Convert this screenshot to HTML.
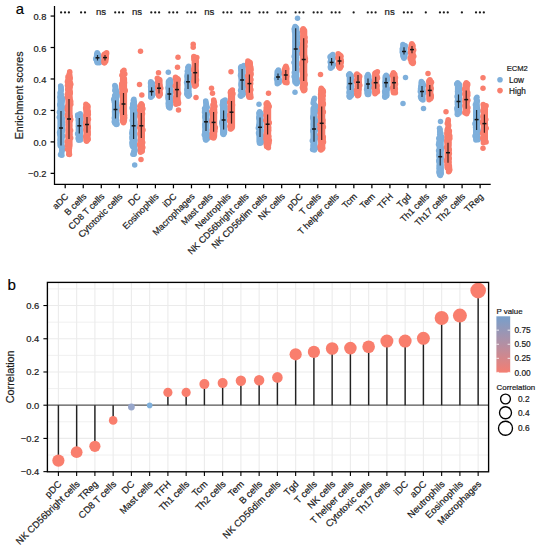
<!DOCTYPE html>
<html><head><meta charset="utf-8"><style>
html,body{margin:0;padding:0;background:#fff;width:540px;height:550px;overflow:hidden}
svg{display:block;font-family:"Liberation Sans", sans-serif}
text{stroke:#1a1a1a;stroke-width:0.2px}
</style></head><body>
<svg width="540" height="550" viewBox="0 0 540 550">
<text x="15.8" y="13.6" font-size="14.8" fill="#000" style="stroke:#000;stroke-width:0.15px">a</text>
<path d="M54.5,5.9 V184.4 H490.7" fill="none" stroke="#000" stroke-width="1.25"/>
<line x1="50.6" x2="54.5" y1="16.06" y2="16.06" stroke="#000" stroke-width="1.25"/>
<text x="46.4" y="20.16" font-size="9.3" text-anchor="end" fill="#1A1A1A">0.8</text>
<line x1="50.6" x2="54.5" y1="47.52" y2="47.52" stroke="#000" stroke-width="1.25"/>
<text x="46.4" y="51.62" font-size="9.3" text-anchor="end" fill="#1A1A1A">0.6</text>
<line x1="50.6" x2="54.5" y1="78.98" y2="78.98" stroke="#000" stroke-width="1.25"/>
<text x="46.4" y="83.08" font-size="9.3" text-anchor="end" fill="#1A1A1A">0.4</text>
<line x1="50.6" x2="54.5" y1="110.44" y2="110.44" stroke="#000" stroke-width="1.25"/>
<text x="46.4" y="114.54" font-size="9.3" text-anchor="end" fill="#1A1A1A">0.2</text>
<line x1="50.6" x2="54.5" y1="141.90" y2="141.90" stroke="#000" stroke-width="1.25"/>
<text x="46.4" y="146.00" font-size="9.3" text-anchor="end" fill="#1A1A1A">0.0</text>
<line x1="50.6" x2="54.5" y1="173.36" y2="173.36" stroke="#000" stroke-width="1.25"/>
<text x="46.4" y="177.46" font-size="9.3" text-anchor="end" fill="#1A1A1A">−0.2</text>
<text transform="translate(22.6,95.4) rotate(-90)" font-size="10.6" text-anchor="middle" fill="#1A1A1A">Enrichment scores</text>
<g fill="#7EAFDB">
<rect x="57.40" y="96.20" width="7.2" height="52.60" rx="3.6"/>
<circle cx="60.6" cy="86.0" r="2.75"/>
<circle cx="61.1" cy="87.3" r="2.75"/>
<circle cx="60.8" cy="88.5" r="2.75"/>
<circle cx="61.2" cy="89.8" r="2.75"/>
<circle cx="61.2" cy="91.0" r="2.75"/>
<circle cx="60.3" cy="92.3" r="2.75"/>
<circle cx="60.2" cy="93.5" r="2.75"/>
<circle cx="61.5" cy="94.8" r="2.75"/>
<circle cx="60.1" cy="96.0" r="2.75"/>
<circle cx="60.0" cy="97.3" r="2.75"/>
<circle cx="62.8" cy="98.5" r="2.75"/>
<circle cx="60.9" cy="99.8" r="2.75"/>
<circle cx="62.2" cy="101.0" r="2.75"/>
<circle cx="60.9" cy="102.3" r="2.75"/>
<circle cx="61.5" cy="103.5" r="2.75"/>
<circle cx="59.7" cy="104.8" r="2.75"/>
<circle cx="61.5" cy="106.0" r="2.75"/>
<circle cx="62.3" cy="107.3" r="2.75"/>
<circle cx="61.1" cy="108.5" r="2.75"/>
<circle cx="61.9" cy="109.8" r="2.75"/>
<circle cx="61.6" cy="111.0" r="2.75"/>
<circle cx="59.4" cy="112.3" r="2.75"/>
<circle cx="61.9" cy="113.5" r="2.75"/>
<circle cx="61.3" cy="114.8" r="2.75"/>
<circle cx="60.3" cy="116.0" r="2.75"/>
<circle cx="59.3" cy="117.3" r="2.75"/>
<circle cx="62.3" cy="118.5" r="2.75"/>
<circle cx="60.9" cy="119.8" r="2.75"/>
<circle cx="61.8" cy="121.0" r="2.75"/>
<circle cx="62.4" cy="122.3" r="2.75"/>
<circle cx="61.8" cy="123.5" r="2.75"/>
<circle cx="62.5" cy="124.8" r="2.75"/>
<circle cx="60.6" cy="126.0" r="2.75"/>
<circle cx="62.1" cy="127.3" r="2.75"/>
<circle cx="60.8" cy="128.6" r="2.75"/>
<circle cx="62.6" cy="129.8" r="2.75"/>
<circle cx="62.4" cy="131.1" r="2.75"/>
<circle cx="59.6" cy="132.3" r="2.75"/>
<circle cx="59.7" cy="133.6" r="2.75"/>
<circle cx="60.0" cy="134.8" r="2.75"/>
<circle cx="62.7" cy="136.1" r="2.75"/>
<circle cx="60.8" cy="137.3" r="2.75"/>
<circle cx="61.5" cy="138.6" r="2.75"/>
<circle cx="60.3" cy="139.8" r="2.75"/>
<circle cx="61.0" cy="141.1" r="2.75"/>
<circle cx="60.6" cy="142.3" r="2.75"/>
<circle cx="60.5" cy="143.6" r="2.75"/>
<circle cx="61.3" cy="144.8" r="2.75"/>
<circle cx="61.3" cy="146.1" r="2.75"/>
<circle cx="62.5" cy="147.3" r="2.75"/>
<circle cx="61.7" cy="148.6" r="2.75"/>
<circle cx="62.5" cy="149.8" r="2.75"/>
<circle cx="61.6" cy="151.1" r="2.75"/>
<circle cx="61.8" cy="152.3" r="2.75"/>
<circle cx="61.3" cy="153.6" r="2.75"/>
<circle cx="60.5" cy="154.8" r="2.75"/>
<circle cx="61.9" cy="155.2" r="2.75"/>
</g>
<g fill="#F97E6D">
<rect x="65.40" y="75.20" width="7.2" height="73.60" rx="3.6"/>
<circle cx="69.7" cy="71.8" r="2.75"/>
<circle cx="69.6" cy="73.0" r="2.75"/>
<circle cx="69.2" cy="74.2" r="2.75"/>
<circle cx="69.8" cy="75.5" r="2.75"/>
<circle cx="68.0" cy="76.8" r="2.75"/>
<circle cx="70.2" cy="78.0" r="2.75"/>
<circle cx="69.3" cy="79.2" r="2.75"/>
<circle cx="68.2" cy="80.5" r="2.75"/>
<circle cx="67.4" cy="81.8" r="2.75"/>
<circle cx="70.3" cy="83.0" r="2.75"/>
<circle cx="70.8" cy="84.2" r="2.75"/>
<circle cx="67.5" cy="85.5" r="2.75"/>
<circle cx="70.1" cy="86.8" r="2.75"/>
<circle cx="68.7" cy="88.0" r="2.75"/>
<circle cx="67.7" cy="89.2" r="2.75"/>
<circle cx="68.3" cy="90.5" r="2.75"/>
<circle cx="70.0" cy="91.8" r="2.75"/>
<circle cx="70.3" cy="93.0" r="2.75"/>
<circle cx="67.4" cy="94.2" r="2.75"/>
<circle cx="69.4" cy="95.5" r="2.75"/>
<circle cx="67.4" cy="96.8" r="2.75"/>
<circle cx="69.8" cy="98.0" r="2.75"/>
<circle cx="68.4" cy="99.2" r="2.75"/>
<circle cx="70.4" cy="100.5" r="2.75"/>
<circle cx="70.7" cy="101.8" r="2.75"/>
<circle cx="69.0" cy="103.0" r="2.75"/>
<circle cx="70.8" cy="104.2" r="2.75"/>
<circle cx="68.3" cy="105.5" r="2.75"/>
<circle cx="67.5" cy="106.8" r="2.75"/>
<circle cx="69.4" cy="108.0" r="2.75"/>
<circle cx="67.3" cy="109.2" r="2.75"/>
<circle cx="67.9" cy="110.5" r="2.75"/>
<circle cx="68.7" cy="111.8" r="2.75"/>
<circle cx="69.4" cy="113.0" r="2.75"/>
<circle cx="67.8" cy="114.2" r="2.75"/>
<circle cx="67.4" cy="115.5" r="2.75"/>
<circle cx="70.3" cy="116.8" r="2.75"/>
<circle cx="68.3" cy="118.0" r="2.75"/>
<circle cx="70.7" cy="119.2" r="2.75"/>
<circle cx="70.4" cy="120.5" r="2.75"/>
<circle cx="68.6" cy="121.8" r="2.75"/>
<circle cx="68.9" cy="123.0" r="2.75"/>
<circle cx="69.1" cy="124.2" r="2.75"/>
<circle cx="69.5" cy="125.5" r="2.75"/>
<circle cx="69.3" cy="126.8" r="2.75"/>
<circle cx="69.2" cy="128.0" r="2.75"/>
<circle cx="69.4" cy="129.2" r="2.75"/>
<circle cx="70.6" cy="130.5" r="2.75"/>
<circle cx="69.0" cy="131.8" r="2.75"/>
<circle cx="68.8" cy="133.0" r="2.75"/>
<circle cx="69.8" cy="134.2" r="2.75"/>
<circle cx="68.1" cy="135.5" r="2.75"/>
<circle cx="68.3" cy="136.8" r="2.75"/>
<circle cx="70.7" cy="138.0" r="2.75"/>
<circle cx="69.1" cy="139.2" r="2.75"/>
<circle cx="69.2" cy="140.5" r="2.75"/>
<circle cx="67.2" cy="141.8" r="2.75"/>
<circle cx="68.7" cy="143.0" r="2.75"/>
<circle cx="69.3" cy="144.2" r="2.75"/>
<circle cx="67.3" cy="145.5" r="2.75"/>
<circle cx="69.4" cy="146.8" r="2.75"/>
<circle cx="69.5" cy="148.0" r="2.75"/>
<circle cx="67.4" cy="149.2" r="2.75"/>
<circle cx="69.2" cy="150.5" r="2.75"/>
<circle cx="68.9" cy="151.8" r="2.75"/>
<circle cx="69.3" cy="153.0" r="2.75"/>
<circle cx="68.8" cy="154.2" r="2.75"/>
<circle cx="69.5" cy="154.4" r="2.75"/>
</g>
<g fill="#7EAFDB">
<rect x="75.70" y="112.20" width="7.2" height="29.60" rx="3.6"/>
<circle cx="80.2" cy="113.8" r="2.75"/>
<circle cx="77.6" cy="115.0" r="2.75"/>
<circle cx="77.7" cy="116.2" r="2.75"/>
<circle cx="79.9" cy="117.5" r="2.75"/>
<circle cx="81.0" cy="118.8" r="2.75"/>
<circle cx="78.4" cy="120.0" r="2.75"/>
<circle cx="79.1" cy="121.2" r="2.75"/>
<circle cx="79.6" cy="122.5" r="2.75"/>
<circle cx="78.7" cy="123.8" r="2.75"/>
<circle cx="78.8" cy="125.0" r="2.75"/>
<circle cx="78.6" cy="126.2" r="2.75"/>
<circle cx="78.8" cy="127.5" r="2.75"/>
<circle cx="79.6" cy="128.8" r="2.75"/>
<circle cx="78.6" cy="130.0" r="2.75"/>
<circle cx="78.9" cy="131.2" r="2.75"/>
<circle cx="80.3" cy="132.5" r="2.75"/>
<circle cx="77.6" cy="133.8" r="2.75"/>
<circle cx="79.5" cy="135.0" r="2.75"/>
<circle cx="80.1" cy="136.2" r="2.75"/>
<circle cx="78.6" cy="137.5" r="2.75"/>
<circle cx="78.3" cy="138.8" r="2.75"/>
<circle cx="80.4" cy="140.0" r="2.75"/>
<circle cx="78.7" cy="140.2" r="2.75"/>
</g>
<g fill="#F97E6D">
<rect x="83.40" y="102.70" width="7.2" height="40.10" rx="3.6"/>
<circle cx="85.9" cy="104.2" r="2.75"/>
<circle cx="86.8" cy="105.5" r="2.75"/>
<circle cx="87.7" cy="106.8" r="2.75"/>
<circle cx="85.6" cy="108.0" r="2.75"/>
<circle cx="86.4" cy="109.2" r="2.75"/>
<circle cx="86.4" cy="110.5" r="2.75"/>
<circle cx="88.2" cy="111.8" r="2.75"/>
<circle cx="86.8" cy="113.0" r="2.75"/>
<circle cx="88.3" cy="114.2" r="2.75"/>
<circle cx="85.8" cy="115.5" r="2.75"/>
<circle cx="86.4" cy="116.8" r="2.75"/>
<circle cx="87.5" cy="118.0" r="2.75"/>
<circle cx="88.4" cy="119.2" r="2.75"/>
<circle cx="86.8" cy="120.5" r="2.75"/>
<circle cx="86.0" cy="121.8" r="2.75"/>
<circle cx="85.6" cy="123.0" r="2.75"/>
<circle cx="87.1" cy="124.2" r="2.75"/>
<circle cx="85.9" cy="125.5" r="2.75"/>
<circle cx="88.1" cy="126.8" r="2.75"/>
<circle cx="88.2" cy="128.0" r="2.75"/>
<circle cx="85.9" cy="129.2" r="2.75"/>
<circle cx="86.2" cy="130.5" r="2.75"/>
<circle cx="88.1" cy="131.8" r="2.75"/>
<circle cx="87.5" cy="133.0" r="2.75"/>
<circle cx="88.1" cy="134.2" r="2.75"/>
<circle cx="86.4" cy="135.5" r="2.75"/>
<circle cx="85.7" cy="136.8" r="2.75"/>
<circle cx="86.3" cy="138.0" r="2.75"/>
<circle cx="88.1" cy="139.2" r="2.75"/>
<circle cx="86.2" cy="140.5" r="2.75"/>
<circle cx="86.6" cy="141.2" r="2.75"/>
</g>
<g fill="#7EAFDB">
<rect x="93.90" y="51.20" width="7.2" height="13.10" rx="3.6"/>
<circle cx="97.2" cy="52.8" r="2.75"/>
<circle cx="97.2" cy="54.0" r="2.75"/>
<circle cx="97.2" cy="55.2" r="2.75"/>
<circle cx="99.0" cy="56.5" r="2.75"/>
<circle cx="96.3" cy="57.8" r="2.75"/>
<circle cx="95.7" cy="59.0" r="2.75"/>
<circle cx="99.1" cy="60.2" r="2.75"/>
<circle cx="98.9" cy="61.5" r="2.75"/>
<circle cx="99.3" cy="62.8" r="2.75"/>
<circle cx="97.3" cy="62.8" r="2.75"/>
</g>
<g fill="#F97E6D">
<rect x="101.40" y="51.20" width="7.2" height="13.10" rx="3.6"/>
<circle cx="106.6" cy="52.8" r="2.75"/>
<circle cx="106.5" cy="54.0" r="2.75"/>
<circle cx="104.0" cy="55.2" r="2.75"/>
<circle cx="105.9" cy="56.5" r="2.75"/>
<circle cx="106.2" cy="57.8" r="2.75"/>
<circle cx="105.6" cy="59.0" r="2.75"/>
<circle cx="105.1" cy="60.2" r="2.75"/>
<circle cx="104.2" cy="61.5" r="2.75"/>
<circle cx="104.4" cy="62.8" r="2.75"/>
<circle cx="104.3" cy="62.8" r="2.75"/>
</g>
<g fill="#7EAFDB">
<rect x="111.90" y="92.20" width="7.2" height="33.90" rx="3.6"/>
<circle cx="114.8" cy="85.5" r="2.75"/>
<circle cx="115.6" cy="86.7" r="2.75"/>
<circle cx="115.2" cy="88.0" r="2.75"/>
<circle cx="116.0" cy="89.2" r="2.75"/>
<circle cx="114.8" cy="90.5" r="2.75"/>
<circle cx="117.0" cy="91.7" r="2.75"/>
<circle cx="116.2" cy="93.0" r="2.75"/>
<circle cx="117.0" cy="94.2" r="2.75"/>
<circle cx="116.9" cy="95.5" r="2.75"/>
<circle cx="116.9" cy="96.7" r="2.75"/>
<circle cx="115.8" cy="98.0" r="2.75"/>
<circle cx="113.7" cy="99.2" r="2.75"/>
<circle cx="116.4" cy="100.5" r="2.75"/>
<circle cx="114.3" cy="101.7" r="2.75"/>
<circle cx="114.8" cy="103.0" r="2.75"/>
<circle cx="116.1" cy="104.2" r="2.75"/>
<circle cx="115.6" cy="105.5" r="2.75"/>
<circle cx="115.2" cy="106.7" r="2.75"/>
<circle cx="117.1" cy="108.0" r="2.75"/>
<circle cx="115.9" cy="109.2" r="2.75"/>
<circle cx="114.9" cy="110.5" r="2.75"/>
<circle cx="114.6" cy="111.7" r="2.75"/>
<circle cx="116.8" cy="113.0" r="2.75"/>
<circle cx="115.4" cy="114.2" r="2.75"/>
<circle cx="116.5" cy="115.5" r="2.75"/>
<circle cx="115.0" cy="116.7" r="2.75"/>
<circle cx="114.4" cy="118.0" r="2.75"/>
<circle cx="115.6" cy="119.2" r="2.75"/>
<circle cx="116.6" cy="120.5" r="2.75"/>
<circle cx="114.3" cy="121.7" r="2.75"/>
<circle cx="116.6" cy="123.0" r="2.75"/>
<circle cx="117.0" cy="124.2" r="2.75"/>
<circle cx="116.2" cy="124.5" r="2.75"/>
</g>
<g fill="#F97E6D">
<rect x="119.90" y="75.20" width="7.2" height="49.10" rx="3.6"/>
<circle cx="124.0" cy="70.3" r="2.75"/>
<circle cx="122.7" cy="71.6" r="2.75"/>
<circle cx="123.7" cy="72.8" r="2.75"/>
<circle cx="124.8" cy="74.1" r="2.75"/>
<circle cx="121.9" cy="75.3" r="2.75"/>
<circle cx="122.7" cy="76.6" r="2.75"/>
<circle cx="122.7" cy="77.8" r="2.75"/>
<circle cx="123.6" cy="79.1" r="2.75"/>
<circle cx="123.2" cy="80.3" r="2.75"/>
<circle cx="123.4" cy="81.6" r="2.75"/>
<circle cx="124.5" cy="82.8" r="2.75"/>
<circle cx="121.7" cy="84.1" r="2.75"/>
<circle cx="121.9" cy="85.3" r="2.75"/>
<circle cx="122.2" cy="86.6" r="2.75"/>
<circle cx="122.1" cy="87.8" r="2.75"/>
<circle cx="121.9" cy="89.1" r="2.75"/>
<circle cx="125.2" cy="90.3" r="2.75"/>
<circle cx="124.8" cy="91.6" r="2.75"/>
<circle cx="122.0" cy="92.8" r="2.75"/>
<circle cx="123.5" cy="94.1" r="2.75"/>
<circle cx="122.8" cy="95.3" r="2.75"/>
<circle cx="122.8" cy="96.6" r="2.75"/>
<circle cx="123.0" cy="97.8" r="2.75"/>
<circle cx="124.0" cy="99.1" r="2.75"/>
<circle cx="123.8" cy="100.3" r="2.75"/>
<circle cx="123.0" cy="101.6" r="2.75"/>
<circle cx="122.4" cy="102.8" r="2.75"/>
<circle cx="122.9" cy="104.1" r="2.75"/>
<circle cx="122.1" cy="105.3" r="2.75"/>
<circle cx="123.7" cy="106.6" r="2.75"/>
<circle cx="124.3" cy="107.8" r="2.75"/>
<circle cx="123.1" cy="109.1" r="2.75"/>
<circle cx="122.0" cy="110.3" r="2.75"/>
<circle cx="122.3" cy="111.6" r="2.75"/>
<circle cx="123.0" cy="112.8" r="2.75"/>
<circle cx="123.9" cy="114.1" r="2.75"/>
<circle cx="124.5" cy="115.3" r="2.75"/>
<circle cx="123.1" cy="116.6" r="2.75"/>
<circle cx="124.6" cy="117.8" r="2.75"/>
<circle cx="123.9" cy="119.1" r="2.75"/>
<circle cx="123.3" cy="120.3" r="2.75"/>
<circle cx="123.0" cy="121.6" r="2.75"/>
<circle cx="123.5" cy="122.8" r="2.75"/>
</g>
<g fill="#7EAFDB">
<rect x="130.00" y="101.20" width="7.2" height="48.60" rx="3.6"/>
<circle cx="133.9" cy="99.2" r="2.75"/>
<circle cx="133.3" cy="100.4" r="2.75"/>
<circle cx="134.3" cy="101.7" r="2.75"/>
<circle cx="133.5" cy="102.9" r="2.75"/>
<circle cx="132.7" cy="104.2" r="2.75"/>
<circle cx="133.7" cy="105.4" r="2.75"/>
<circle cx="134.3" cy="106.7" r="2.75"/>
<circle cx="132.1" cy="107.9" r="2.75"/>
<circle cx="133.3" cy="109.2" r="2.75"/>
<circle cx="133.3" cy="110.4" r="2.75"/>
<circle cx="135.0" cy="111.7" r="2.75"/>
<circle cx="135.2" cy="112.9" r="2.75"/>
<circle cx="133.1" cy="114.2" r="2.75"/>
<circle cx="135.0" cy="115.4" r="2.75"/>
<circle cx="134.6" cy="116.7" r="2.75"/>
<circle cx="132.7" cy="117.9" r="2.75"/>
<circle cx="133.5" cy="119.2" r="2.75"/>
<circle cx="132.2" cy="120.4" r="2.75"/>
<circle cx="134.7" cy="121.7" r="2.75"/>
<circle cx="134.2" cy="122.9" r="2.75"/>
<circle cx="135.0" cy="124.2" r="2.75"/>
<circle cx="134.7" cy="125.4" r="2.75"/>
<circle cx="134.2" cy="126.7" r="2.75"/>
<circle cx="134.4" cy="127.9" r="2.75"/>
<circle cx="133.8" cy="129.2" r="2.75"/>
<circle cx="132.2" cy="130.4" r="2.75"/>
<circle cx="133.9" cy="131.7" r="2.75"/>
<circle cx="131.8" cy="132.9" r="2.75"/>
<circle cx="132.3" cy="134.2" r="2.75"/>
<circle cx="134.6" cy="135.4" r="2.75"/>
<circle cx="132.0" cy="136.7" r="2.75"/>
<circle cx="132.1" cy="137.9" r="2.75"/>
<circle cx="132.2" cy="139.2" r="2.75"/>
<circle cx="135.0" cy="140.4" r="2.75"/>
<circle cx="132.4" cy="141.7" r="2.75"/>
<circle cx="131.9" cy="142.9" r="2.75"/>
<circle cx="134.8" cy="144.2" r="2.75"/>
<circle cx="132.2" cy="145.4" r="2.75"/>
<circle cx="134.8" cy="146.7" r="2.75"/>
<circle cx="134.2" cy="147.9" r="2.75"/>
<circle cx="134.8" cy="149.2" r="2.75"/>
<circle cx="135.2" cy="150.4" r="2.75"/>
<circle cx="133.7" cy="151.7" r="2.75"/>
<circle cx="134.1" cy="152.9" r="2.75"/>
<circle cx="132.9" cy="154.2" r="2.75"/>
<circle cx="134.2" cy="154.2" r="2.75"/>
<circle cx="134.7" cy="165.0" r="2.75"/>
</g>
<g fill="#F97E6D">
<rect x="137.70" y="102.20" width="7.2" height="51.60" rx="3.6"/>
<circle cx="141.3" cy="103.8" r="2.75"/>
<circle cx="142.1" cy="105.0" r="2.75"/>
<circle cx="139.9" cy="106.2" r="2.75"/>
<circle cx="142.2" cy="107.5" r="2.75"/>
<circle cx="142.9" cy="108.8" r="2.75"/>
<circle cx="139.7" cy="110.0" r="2.75"/>
<circle cx="140.7" cy="111.2" r="2.75"/>
<circle cx="141.5" cy="112.5" r="2.75"/>
<circle cx="142.5" cy="113.8" r="2.75"/>
<circle cx="140.4" cy="115.0" r="2.75"/>
<circle cx="140.1" cy="116.2" r="2.75"/>
<circle cx="140.4" cy="117.5" r="2.75"/>
<circle cx="141.7" cy="118.8" r="2.75"/>
<circle cx="142.2" cy="120.0" r="2.75"/>
<circle cx="140.9" cy="121.2" r="2.75"/>
<circle cx="140.8" cy="122.5" r="2.75"/>
<circle cx="140.9" cy="123.8" r="2.75"/>
<circle cx="140.8" cy="125.0" r="2.75"/>
<circle cx="141.0" cy="126.2" r="2.75"/>
<circle cx="139.8" cy="127.5" r="2.75"/>
<circle cx="141.3" cy="128.8" r="2.75"/>
<circle cx="143.0" cy="130.0" r="2.75"/>
<circle cx="141.0" cy="131.2" r="2.75"/>
<circle cx="142.2" cy="132.5" r="2.75"/>
<circle cx="140.1" cy="133.8" r="2.75"/>
<circle cx="142.0" cy="135.0" r="2.75"/>
<circle cx="142.2" cy="136.2" r="2.75"/>
<circle cx="141.9" cy="137.5" r="2.75"/>
<circle cx="141.4" cy="138.8" r="2.75"/>
<circle cx="141.2" cy="140.0" r="2.75"/>
<circle cx="141.8" cy="141.2" r="2.75"/>
<circle cx="142.7" cy="142.5" r="2.75"/>
<circle cx="140.0" cy="143.8" r="2.75"/>
<circle cx="139.8" cy="145.0" r="2.75"/>
<circle cx="142.2" cy="146.2" r="2.75"/>
<circle cx="142.8" cy="147.5" r="2.75"/>
<circle cx="141.4" cy="148.8" r="2.75"/>
<circle cx="141.1" cy="150.0" r="2.75"/>
<circle cx="142.1" cy="151.2" r="2.75"/>
<circle cx="140.5" cy="152.2" r="2.75"/>
<circle cx="141.0" cy="159.6" r="2.75"/>
<circle cx="140.5" cy="51.3" r="2.75"/>
<circle cx="139.5" cy="84.5" r="2.75"/>
<circle cx="141.8" cy="95.0" r="2.75"/>
</g>
<g fill="#7EAFDB">
<rect x="148.00" y="80.20" width="7.2" height="18.60" rx="3.6"/>
<circle cx="150.8" cy="81.8" r="2.75"/>
<circle cx="150.5" cy="83.0" r="2.75"/>
<circle cx="151.9" cy="84.2" r="2.75"/>
<circle cx="150.9" cy="85.5" r="2.75"/>
<circle cx="150.6" cy="86.8" r="2.75"/>
<circle cx="152.3" cy="88.0" r="2.75"/>
<circle cx="153.2" cy="89.2" r="2.75"/>
<circle cx="150.9" cy="90.5" r="2.75"/>
<circle cx="152.3" cy="91.8" r="2.75"/>
<circle cx="151.3" cy="93.0" r="2.75"/>
<circle cx="152.9" cy="94.2" r="2.75"/>
<circle cx="151.9" cy="95.5" r="2.75"/>
<circle cx="150.8" cy="96.8" r="2.75"/>
<circle cx="150.9" cy="97.2" r="2.75"/>
</g>
<g fill="#F97E6D">
<rect x="155.40" y="76.70" width="7.2" height="20.80" rx="3.6"/>
<circle cx="157.3" cy="78.2" r="2.75"/>
<circle cx="158.9" cy="79.5" r="2.75"/>
<circle cx="158.6" cy="80.8" r="2.75"/>
<circle cx="157.8" cy="82.0" r="2.75"/>
<circle cx="158.5" cy="83.2" r="2.75"/>
<circle cx="158.4" cy="84.5" r="2.75"/>
<circle cx="160.0" cy="85.8" r="2.75"/>
<circle cx="157.7" cy="87.0" r="2.75"/>
<circle cx="160.8" cy="88.2" r="2.75"/>
<circle cx="158.9" cy="89.5" r="2.75"/>
<circle cx="159.4" cy="90.8" r="2.75"/>
<circle cx="158.9" cy="92.0" r="2.75"/>
<circle cx="160.2" cy="93.2" r="2.75"/>
<circle cx="160.2" cy="94.5" r="2.75"/>
<circle cx="159.2" cy="95.8" r="2.75"/>
<circle cx="159.0" cy="96.0" r="2.75"/>
<circle cx="158.5" cy="72.7" r="2.75"/>
</g>
<g fill="#7EAFDB">
<rect x="165.70" y="78.20" width="7.2" height="31.40" rx="3.6"/>
<circle cx="170.1" cy="79.8" r="2.75"/>
<circle cx="170.6" cy="81.0" r="2.75"/>
<circle cx="168.9" cy="82.2" r="2.75"/>
<circle cx="170.1" cy="83.5" r="2.75"/>
<circle cx="171.0" cy="84.8" r="2.75"/>
<circle cx="169.2" cy="86.0" r="2.75"/>
<circle cx="168.3" cy="87.2" r="2.75"/>
<circle cx="168.3" cy="88.5" r="2.75"/>
<circle cx="170.1" cy="89.8" r="2.75"/>
<circle cx="169.9" cy="91.0" r="2.75"/>
<circle cx="171.0" cy="92.2" r="2.75"/>
<circle cx="170.6" cy="93.5" r="2.75"/>
<circle cx="168.4" cy="94.8" r="2.75"/>
<circle cx="168.2" cy="96.0" r="2.75"/>
<circle cx="168.4" cy="97.2" r="2.75"/>
<circle cx="168.2" cy="98.5" r="2.75"/>
<circle cx="170.0" cy="99.8" r="2.75"/>
<circle cx="170.6" cy="101.0" r="2.75"/>
<circle cx="170.7" cy="102.2" r="2.75"/>
<circle cx="168.4" cy="103.5" r="2.75"/>
<circle cx="170.6" cy="104.8" r="2.75"/>
<circle cx="168.6" cy="106.0" r="2.75"/>
<circle cx="169.0" cy="107.2" r="2.75"/>
<circle cx="169.8" cy="108.0" r="2.75"/>
<circle cx="168.3" cy="72.2" r="2.75"/>
</g>
<g fill="#F97E6D">
<rect x="173.40" y="75.70" width="7.2" height="30.10" rx="3.6"/>
<circle cx="175.5" cy="77.2" r="2.75"/>
<circle cx="175.5" cy="78.5" r="2.75"/>
<circle cx="178.2" cy="79.8" r="2.75"/>
<circle cx="176.3" cy="81.0" r="2.75"/>
<circle cx="176.5" cy="82.2" r="2.75"/>
<circle cx="177.3" cy="83.5" r="2.75"/>
<circle cx="177.6" cy="84.8" r="2.75"/>
<circle cx="175.2" cy="86.0" r="2.75"/>
<circle cx="176.4" cy="87.2" r="2.75"/>
<circle cx="176.8" cy="88.5" r="2.75"/>
<circle cx="176.9" cy="89.8" r="2.75"/>
<circle cx="176.0" cy="91.0" r="2.75"/>
<circle cx="177.3" cy="92.2" r="2.75"/>
<circle cx="178.6" cy="93.5" r="2.75"/>
<circle cx="176.6" cy="94.8" r="2.75"/>
<circle cx="177.2" cy="96.0" r="2.75"/>
<circle cx="175.6" cy="97.2" r="2.75"/>
<circle cx="176.2" cy="98.5" r="2.75"/>
<circle cx="177.6" cy="99.8" r="2.75"/>
<circle cx="175.6" cy="101.0" r="2.75"/>
<circle cx="178.4" cy="102.2" r="2.75"/>
<circle cx="178.5" cy="103.5" r="2.75"/>
<circle cx="176.0" cy="104.2" r="2.75"/>
<circle cx="178.0" cy="57.3" r="2.75"/>
<circle cx="177.5" cy="67.3" r="2.75"/>
<circle cx="178.5" cy="110.0" r="2.75"/>
</g>
<g fill="#7EAFDB">
<rect x="184.40" y="71.20" width="7.2" height="26.60" rx="3.6"/>
<circle cx="188.7" cy="66.3" r="2.75"/>
<circle cx="187.8" cy="67.6" r="2.75"/>
<circle cx="188.4" cy="68.8" r="2.75"/>
<circle cx="188.9" cy="70.1" r="2.75"/>
<circle cx="187.3" cy="71.3" r="2.75"/>
<circle cx="188.6" cy="72.6" r="2.75"/>
<circle cx="188.6" cy="73.8" r="2.75"/>
<circle cx="189.1" cy="75.1" r="2.75"/>
<circle cx="187.2" cy="76.3" r="2.75"/>
<circle cx="188.9" cy="77.6" r="2.75"/>
<circle cx="189.7" cy="78.8" r="2.75"/>
<circle cx="188.6" cy="80.1" r="2.75"/>
<circle cx="188.1" cy="81.3" r="2.75"/>
<circle cx="186.6" cy="82.6" r="2.75"/>
<circle cx="188.0" cy="83.8" r="2.75"/>
<circle cx="187.5" cy="85.1" r="2.75"/>
<circle cx="188.8" cy="86.3" r="2.75"/>
<circle cx="188.6" cy="87.6" r="2.75"/>
<circle cx="188.2" cy="88.8" r="2.75"/>
<circle cx="186.9" cy="90.1" r="2.75"/>
<circle cx="188.5" cy="91.3" r="2.75"/>
<circle cx="188.5" cy="92.6" r="2.75"/>
<circle cx="186.8" cy="93.8" r="2.75"/>
<circle cx="189.4" cy="95.1" r="2.75"/>
<circle cx="188.4" cy="96.2" r="2.75"/>
</g>
<g fill="#F97E6D">
<rect x="191.60" y="54.80" width="7.2" height="33.00" rx="3.6"/>
<circle cx="193.8" cy="56.4" r="2.75"/>
<circle cx="196.8" cy="57.6" r="2.75"/>
<circle cx="193.9" cy="58.9" r="2.75"/>
<circle cx="194.6" cy="60.1" r="2.75"/>
<circle cx="196.0" cy="61.4" r="2.75"/>
<circle cx="195.6" cy="62.6" r="2.75"/>
<circle cx="195.4" cy="63.9" r="2.75"/>
<circle cx="195.7" cy="65.1" r="2.75"/>
<circle cx="195.0" cy="66.3" r="2.75"/>
<circle cx="194.5" cy="67.6" r="2.75"/>
<circle cx="194.0" cy="68.8" r="2.75"/>
<circle cx="193.6" cy="70.1" r="2.75"/>
<circle cx="196.0" cy="71.3" r="2.75"/>
<circle cx="196.1" cy="72.6" r="2.75"/>
<circle cx="195.4" cy="73.8" r="2.75"/>
<circle cx="196.1" cy="75.1" r="2.75"/>
<circle cx="194.7" cy="76.3" r="2.75"/>
<circle cx="194.4" cy="77.6" r="2.75"/>
<circle cx="194.8" cy="78.8" r="2.75"/>
<circle cx="196.5" cy="80.1" r="2.75"/>
<circle cx="193.6" cy="81.3" r="2.75"/>
<circle cx="195.2" cy="82.6" r="2.75"/>
<circle cx="194.3" cy="83.8" r="2.75"/>
<circle cx="196.2" cy="85.1" r="2.75"/>
<circle cx="194.8" cy="86.2" r="2.75"/>
<circle cx="193.2" cy="44.3" r="2.75"/>
<circle cx="193.2" cy="47.2" r="2.75"/>
<circle cx="196.0" cy="97.6" r="2.75"/>
</g>
<g fill="#7EAFDB">
<rect x="202.40" y="108.20" width="7.2" height="33.40" rx="3.6"/>
<circle cx="205.7" cy="101.0" r="2.75"/>
<circle cx="205.8" cy="102.2" r="2.75"/>
<circle cx="206.1" cy="103.5" r="2.75"/>
<circle cx="206.4" cy="104.7" r="2.75"/>
<circle cx="205.8" cy="106.0" r="2.75"/>
<circle cx="207.2" cy="107.2" r="2.75"/>
<circle cx="204.6" cy="108.5" r="2.75"/>
<circle cx="205.2" cy="109.7" r="2.75"/>
<circle cx="204.6" cy="111.0" r="2.75"/>
<circle cx="204.6" cy="112.2" r="2.75"/>
<circle cx="207.0" cy="113.5" r="2.75"/>
<circle cx="206.8" cy="114.7" r="2.75"/>
<circle cx="204.9" cy="116.0" r="2.75"/>
<circle cx="204.9" cy="117.2" r="2.75"/>
<circle cx="205.7" cy="118.5" r="2.75"/>
<circle cx="206.9" cy="119.7" r="2.75"/>
<circle cx="207.1" cy="121.0" r="2.75"/>
<circle cx="206.9" cy="122.2" r="2.75"/>
<circle cx="206.3" cy="123.5" r="2.75"/>
<circle cx="204.7" cy="124.7" r="2.75"/>
<circle cx="205.6" cy="126.0" r="2.75"/>
<circle cx="204.9" cy="127.2" r="2.75"/>
<circle cx="206.1" cy="128.4" r="2.75"/>
<circle cx="206.2" cy="129.7" r="2.75"/>
<circle cx="204.9" cy="130.9" r="2.75"/>
<circle cx="205.1" cy="132.2" r="2.75"/>
<circle cx="207.0" cy="133.4" r="2.75"/>
<circle cx="204.3" cy="134.7" r="2.75"/>
<circle cx="207.1" cy="135.9" r="2.75"/>
<circle cx="207.4" cy="137.2" r="2.75"/>
<circle cx="207.6" cy="138.4" r="2.75"/>
<circle cx="205.6" cy="139.7" r="2.75"/>
<circle cx="206.1" cy="140.1" r="2.75"/>
</g>
<g fill="#F97E6D">
<rect x="210.00" y="105.20" width="7.2" height="34.40" rx="3.6"/>
<circle cx="213.7" cy="100.0" r="2.75"/>
<circle cx="213.8" cy="101.3" r="2.75"/>
<circle cx="214.4" cy="102.5" r="2.75"/>
<circle cx="213.9" cy="103.8" r="2.75"/>
<circle cx="212.9" cy="105.0" r="2.75"/>
<circle cx="214.9" cy="106.3" r="2.75"/>
<circle cx="213.5" cy="107.5" r="2.75"/>
<circle cx="214.0" cy="108.8" r="2.75"/>
<circle cx="214.4" cy="110.0" r="2.75"/>
<circle cx="211.8" cy="111.3" r="2.75"/>
<circle cx="214.6" cy="112.5" r="2.75"/>
<circle cx="214.2" cy="113.8" r="2.75"/>
<circle cx="213.6" cy="115.0" r="2.75"/>
<circle cx="213.7" cy="116.3" r="2.75"/>
<circle cx="213.5" cy="117.5" r="2.75"/>
<circle cx="212.5" cy="118.8" r="2.75"/>
<circle cx="213.7" cy="120.0" r="2.75"/>
<circle cx="211.9" cy="121.3" r="2.75"/>
<circle cx="213.6" cy="122.5" r="2.75"/>
<circle cx="214.1" cy="123.8" r="2.75"/>
<circle cx="213.4" cy="125.0" r="2.75"/>
<circle cx="213.8" cy="126.3" r="2.75"/>
<circle cx="215.3" cy="127.5" r="2.75"/>
<circle cx="215.0" cy="128.8" r="2.75"/>
<circle cx="212.3" cy="130.1" r="2.75"/>
<circle cx="214.7" cy="131.3" r="2.75"/>
<circle cx="214.0" cy="132.6" r="2.75"/>
<circle cx="212.0" cy="133.8" r="2.75"/>
<circle cx="213.1" cy="135.1" r="2.75"/>
<circle cx="212.6" cy="136.3" r="2.75"/>
<circle cx="212.1" cy="137.6" r="2.75"/>
<circle cx="213.7" cy="138.1" r="2.75"/>
<circle cx="211.5" cy="88.2" r="2.75"/>
<circle cx="212.5" cy="93.3" r="2.75"/>
</g>
<g fill="#7EAFDB">
<rect x="220.00" y="98.50" width="7.2" height="37.60" rx="3.6"/>
<circle cx="225.1" cy="100.0" r="2.75"/>
<circle cx="223.0" cy="101.3" r="2.75"/>
<circle cx="224.9" cy="102.5" r="2.75"/>
<circle cx="224.3" cy="103.8" r="2.75"/>
<circle cx="222.3" cy="105.0" r="2.75"/>
<circle cx="224.9" cy="106.3" r="2.75"/>
<circle cx="224.0" cy="107.5" r="2.75"/>
<circle cx="225.1" cy="108.8" r="2.75"/>
<circle cx="224.4" cy="110.0" r="2.75"/>
<circle cx="224.5" cy="111.3" r="2.75"/>
<circle cx="223.0" cy="112.5" r="2.75"/>
<circle cx="224.7" cy="113.8" r="2.75"/>
<circle cx="225.2" cy="115.0" r="2.75"/>
<circle cx="224.9" cy="116.3" r="2.75"/>
<circle cx="223.4" cy="117.5" r="2.75"/>
<circle cx="224.5" cy="118.8" r="2.75"/>
<circle cx="223.5" cy="120.0" r="2.75"/>
<circle cx="222.2" cy="121.3" r="2.75"/>
<circle cx="222.0" cy="122.5" r="2.75"/>
<circle cx="222.1" cy="123.8" r="2.75"/>
<circle cx="222.5" cy="125.0" r="2.75"/>
<circle cx="222.4" cy="126.3" r="2.75"/>
<circle cx="223.6" cy="127.5" r="2.75"/>
<circle cx="224.3" cy="128.8" r="2.75"/>
<circle cx="223.7" cy="130.1" r="2.75"/>
<circle cx="223.3" cy="131.3" r="2.75"/>
<circle cx="224.1" cy="132.6" r="2.75"/>
<circle cx="222.9" cy="133.8" r="2.75"/>
<circle cx="223.5" cy="134.6" r="2.75"/>
</g>
<g fill="#F97E6D">
<rect x="227.90" y="88.50" width="7.2" height="42.10" rx="3.6"/>
<circle cx="232.4" cy="90.0" r="2.75"/>
<circle cx="231.1" cy="91.3" r="2.75"/>
<circle cx="230.4" cy="92.5" r="2.75"/>
<circle cx="232.9" cy="93.8" r="2.75"/>
<circle cx="232.3" cy="95.0" r="2.75"/>
<circle cx="231.0" cy="96.3" r="2.75"/>
<circle cx="231.0" cy="97.5" r="2.75"/>
<circle cx="231.6" cy="98.8" r="2.75"/>
<circle cx="231.8" cy="100.0" r="2.75"/>
<circle cx="230.5" cy="101.3" r="2.75"/>
<circle cx="229.7" cy="102.5" r="2.75"/>
<circle cx="230.5" cy="103.8" r="2.75"/>
<circle cx="232.5" cy="105.0" r="2.75"/>
<circle cx="230.2" cy="106.3" r="2.75"/>
<circle cx="231.4" cy="107.5" r="2.75"/>
<circle cx="230.4" cy="108.8" r="2.75"/>
<circle cx="230.5" cy="110.0" r="2.75"/>
<circle cx="230.3" cy="111.3" r="2.75"/>
<circle cx="231.2" cy="112.5" r="2.75"/>
<circle cx="230.3" cy="113.8" r="2.75"/>
<circle cx="229.8" cy="115.0" r="2.75"/>
<circle cx="230.1" cy="116.3" r="2.75"/>
<circle cx="230.3" cy="117.5" r="2.75"/>
<circle cx="231.5" cy="118.8" r="2.75"/>
<circle cx="229.9" cy="120.0" r="2.75"/>
<circle cx="229.8" cy="121.3" r="2.75"/>
<circle cx="231.3" cy="122.5" r="2.75"/>
<circle cx="231.2" cy="123.8" r="2.75"/>
<circle cx="232.2" cy="125.0" r="2.75"/>
<circle cx="229.9" cy="126.3" r="2.75"/>
<circle cx="231.2" cy="127.5" r="2.75"/>
<circle cx="231.1" cy="128.8" r="2.75"/>
<circle cx="230.4" cy="129.1" r="2.75"/>
<circle cx="231.0" cy="71.8" r="2.75"/>
</g>
<g fill="#7EAFDB">
<rect x="238.50" y="63.90" width="7.2" height="33.90" rx="3.6"/>
<circle cx="243.8" cy="65.5" r="2.75"/>
<circle cx="241.1" cy="66.7" r="2.75"/>
<circle cx="240.6" cy="68.0" r="2.75"/>
<circle cx="242.0" cy="69.2" r="2.75"/>
<circle cx="240.9" cy="70.5" r="2.75"/>
<circle cx="242.5" cy="71.7" r="2.75"/>
<circle cx="241.5" cy="73.0" r="2.75"/>
<circle cx="240.7" cy="74.2" r="2.75"/>
<circle cx="240.5" cy="75.5" r="2.75"/>
<circle cx="242.9" cy="76.7" r="2.75"/>
<circle cx="241.3" cy="78.0" r="2.75"/>
<circle cx="243.1" cy="79.2" r="2.75"/>
<circle cx="242.0" cy="80.5" r="2.75"/>
<circle cx="243.7" cy="81.7" r="2.75"/>
<circle cx="241.4" cy="83.0" r="2.75"/>
<circle cx="241.2" cy="84.2" r="2.75"/>
<circle cx="241.3" cy="85.5" r="2.75"/>
<circle cx="243.2" cy="86.7" r="2.75"/>
<circle cx="242.6" cy="88.0" r="2.75"/>
<circle cx="241.5" cy="89.2" r="2.75"/>
<circle cx="240.6" cy="90.5" r="2.75"/>
<circle cx="242.8" cy="91.7" r="2.75"/>
<circle cx="243.8" cy="93.0" r="2.75"/>
<circle cx="242.4" cy="94.2" r="2.75"/>
<circle cx="240.3" cy="95.5" r="2.75"/>
<circle cx="241.0" cy="96.2" r="2.75"/>
</g>
<g fill="#F97E6D">
<rect x="245.80" y="59.40" width="7.2" height="39.40" rx="3.6"/>
<circle cx="247.9" cy="61.0" r="2.75"/>
<circle cx="248.2" cy="62.2" r="2.75"/>
<circle cx="247.7" cy="63.5" r="2.75"/>
<circle cx="247.8" cy="64.7" r="2.75"/>
<circle cx="250.0" cy="66.0" r="2.75"/>
<circle cx="250.8" cy="67.2" r="2.75"/>
<circle cx="248.3" cy="68.5" r="2.75"/>
<circle cx="251.1" cy="69.7" r="2.75"/>
<circle cx="249.3" cy="71.0" r="2.75"/>
<circle cx="250.5" cy="72.2" r="2.75"/>
<circle cx="250.9" cy="73.5" r="2.75"/>
<circle cx="251.0" cy="74.7" r="2.75"/>
<circle cx="247.7" cy="76.0" r="2.75"/>
<circle cx="248.7" cy="77.2" r="2.75"/>
<circle cx="249.8" cy="78.5" r="2.75"/>
<circle cx="251.0" cy="79.7" r="2.75"/>
<circle cx="247.9" cy="81.0" r="2.75"/>
<circle cx="248.7" cy="82.2" r="2.75"/>
<circle cx="250.7" cy="83.5" r="2.75"/>
<circle cx="248.0" cy="84.7" r="2.75"/>
<circle cx="249.0" cy="86.0" r="2.75"/>
<circle cx="248.8" cy="87.2" r="2.75"/>
<circle cx="250.0" cy="88.5" r="2.75"/>
<circle cx="250.9" cy="89.7" r="2.75"/>
<circle cx="248.2" cy="91.0" r="2.75"/>
<circle cx="250.3" cy="92.2" r="2.75"/>
<circle cx="250.2" cy="93.5" r="2.75"/>
<circle cx="250.6" cy="94.7" r="2.75"/>
<circle cx="249.6" cy="96.0" r="2.75"/>
<circle cx="250.9" cy="97.2" r="2.75"/>
<circle cx="249.1" cy="97.2" r="2.75"/>
</g>
<g fill="#7EAFDB">
<rect x="256.40" y="110.20" width="7.2" height="34.60" rx="3.6"/>
<circle cx="259.7" cy="111.8" r="2.75"/>
<circle cx="259.0" cy="113.0" r="2.75"/>
<circle cx="261.0" cy="114.2" r="2.75"/>
<circle cx="259.9" cy="115.5" r="2.75"/>
<circle cx="259.2" cy="116.8" r="2.75"/>
<circle cx="258.8" cy="118.0" r="2.75"/>
<circle cx="260.8" cy="119.2" r="2.75"/>
<circle cx="260.4" cy="120.5" r="2.75"/>
<circle cx="260.8" cy="121.8" r="2.75"/>
<circle cx="259.6" cy="123.0" r="2.75"/>
<circle cx="260.0" cy="124.2" r="2.75"/>
<circle cx="258.8" cy="125.5" r="2.75"/>
<circle cx="260.8" cy="126.8" r="2.75"/>
<circle cx="258.3" cy="128.0" r="2.75"/>
<circle cx="259.9" cy="129.2" r="2.75"/>
<circle cx="260.9" cy="130.5" r="2.75"/>
<circle cx="260.6" cy="131.8" r="2.75"/>
<circle cx="258.5" cy="133.0" r="2.75"/>
<circle cx="259.1" cy="134.2" r="2.75"/>
<circle cx="261.2" cy="135.5" r="2.75"/>
<circle cx="260.5" cy="136.8" r="2.75"/>
<circle cx="261.4" cy="138.0" r="2.75"/>
<circle cx="261.3" cy="139.2" r="2.75"/>
<circle cx="259.8" cy="140.5" r="2.75"/>
<circle cx="261.4" cy="141.8" r="2.75"/>
<circle cx="260.8" cy="143.0" r="2.75"/>
<circle cx="259.6" cy="143.2" r="2.75"/>
<circle cx="259.0" cy="104.2" r="2.75"/>
</g>
<g fill="#F97E6D">
<rect x="264.00" y="101.20" width="7.2" height="48.00" rx="3.6"/>
<circle cx="267.1" cy="102.8" r="2.75"/>
<circle cx="266.1" cy="104.0" r="2.75"/>
<circle cx="267.2" cy="105.2" r="2.75"/>
<circle cx="269.2" cy="106.5" r="2.75"/>
<circle cx="266.2" cy="107.8" r="2.75"/>
<circle cx="267.8" cy="109.0" r="2.75"/>
<circle cx="266.2" cy="110.2" r="2.75"/>
<circle cx="266.1" cy="111.5" r="2.75"/>
<circle cx="268.1" cy="112.8" r="2.75"/>
<circle cx="266.7" cy="114.0" r="2.75"/>
<circle cx="266.0" cy="115.2" r="2.75"/>
<circle cx="266.3" cy="116.5" r="2.75"/>
<circle cx="268.1" cy="117.8" r="2.75"/>
<circle cx="267.9" cy="119.0" r="2.75"/>
<circle cx="265.8" cy="120.2" r="2.75"/>
<circle cx="266.6" cy="121.5" r="2.75"/>
<circle cx="269.3" cy="122.8" r="2.75"/>
<circle cx="266.6" cy="124.0" r="2.75"/>
<circle cx="267.8" cy="125.2" r="2.75"/>
<circle cx="267.3" cy="126.5" r="2.75"/>
<circle cx="268.6" cy="127.8" r="2.75"/>
<circle cx="268.0" cy="129.0" r="2.75"/>
<circle cx="268.6" cy="130.2" r="2.75"/>
<circle cx="267.7" cy="131.5" r="2.75"/>
<circle cx="266.5" cy="132.8" r="2.75"/>
<circle cx="266.4" cy="134.0" r="2.75"/>
<circle cx="266.1" cy="135.2" r="2.75"/>
<circle cx="268.8" cy="136.5" r="2.75"/>
<circle cx="266.2" cy="137.8" r="2.75"/>
<circle cx="265.9" cy="139.0" r="2.75"/>
<circle cx="269.3" cy="140.2" r="2.75"/>
<circle cx="266.5" cy="141.5" r="2.75"/>
<circle cx="269.0" cy="142.8" r="2.75"/>
<circle cx="266.1" cy="144.0" r="2.75"/>
<circle cx="267.5" cy="145.2" r="2.75"/>
<circle cx="266.6" cy="146.5" r="2.75"/>
<circle cx="268.4" cy="147.7" r="2.75"/>
<circle cx="268.5" cy="93.3" r="2.75"/>
</g>
<g fill="#7EAFDB">
<rect x="274.40" y="68.50" width="7.2" height="16.70" rx="3.6"/>
<circle cx="278.4" cy="70.0" r="2.75"/>
<circle cx="278.5" cy="71.3" r="2.75"/>
<circle cx="278.9" cy="72.5" r="2.75"/>
<circle cx="279.3" cy="73.8" r="2.75"/>
<circle cx="277.4" cy="75.0" r="2.75"/>
<circle cx="278.4" cy="76.3" r="2.75"/>
<circle cx="277.8" cy="77.5" r="2.75"/>
<circle cx="276.6" cy="78.8" r="2.75"/>
<circle cx="279.2" cy="80.0" r="2.75"/>
<circle cx="278.3" cy="81.3" r="2.75"/>
<circle cx="279.1" cy="82.5" r="2.75"/>
<circle cx="277.3" cy="83.7" r="2.75"/>
</g>
<g fill="#F97E6D">
<rect x="282.20" y="64.80" width="7.2" height="19.50" rx="3.6"/>
<circle cx="285.9" cy="66.3" r="2.75"/>
<circle cx="285.7" cy="67.6" r="2.75"/>
<circle cx="286.6" cy="68.8" r="2.75"/>
<circle cx="284.3" cy="70.1" r="2.75"/>
<circle cx="285.2" cy="71.3" r="2.75"/>
<circle cx="285.7" cy="72.6" r="2.75"/>
<circle cx="284.3" cy="73.8" r="2.75"/>
<circle cx="286.0" cy="75.1" r="2.75"/>
<circle cx="286.6" cy="76.3" r="2.75"/>
<circle cx="285.5" cy="77.6" r="2.75"/>
<circle cx="286.3" cy="78.8" r="2.75"/>
<circle cx="286.2" cy="80.1" r="2.75"/>
<circle cx="284.8" cy="81.3" r="2.75"/>
<circle cx="285.3" cy="82.6" r="2.75"/>
<circle cx="287.0" cy="82.8" r="2.75"/>
</g>
<g fill="#7EAFDB">
<rect x="292.10" y="24.80" width="7.2" height="60.40" rx="3.6"/>
<circle cx="295.1" cy="26.4" r="2.75"/>
<circle cx="295.5" cy="27.6" r="2.75"/>
<circle cx="294.2" cy="28.9" r="2.75"/>
<circle cx="294.7" cy="30.1" r="2.75"/>
<circle cx="294.5" cy="31.4" r="2.75"/>
<circle cx="297.3" cy="32.6" r="2.75"/>
<circle cx="296.5" cy="33.9" r="2.75"/>
<circle cx="297.0" cy="35.1" r="2.75"/>
<circle cx="297.5" cy="36.4" r="2.75"/>
<circle cx="296.1" cy="37.6" r="2.75"/>
<circle cx="297.3" cy="38.9" r="2.75"/>
<circle cx="295.8" cy="40.1" r="2.75"/>
<circle cx="295.4" cy="41.4" r="2.75"/>
<circle cx="297.3" cy="42.6" r="2.75"/>
<circle cx="297.2" cy="43.9" r="2.75"/>
<circle cx="297.3" cy="45.1" r="2.75"/>
<circle cx="295.6" cy="46.4" r="2.75"/>
<circle cx="296.7" cy="47.6" r="2.75"/>
<circle cx="295.4" cy="48.9" r="2.75"/>
<circle cx="297.5" cy="50.1" r="2.75"/>
<circle cx="297.2" cy="51.4" r="2.75"/>
<circle cx="295.0" cy="52.6" r="2.75"/>
<circle cx="297.3" cy="53.9" r="2.75"/>
<circle cx="294.6" cy="55.1" r="2.75"/>
<circle cx="294.2" cy="56.4" r="2.75"/>
<circle cx="296.5" cy="57.6" r="2.75"/>
<circle cx="295.0" cy="58.9" r="2.75"/>
<circle cx="295.8" cy="60.1" r="2.75"/>
<circle cx="296.2" cy="61.4" r="2.75"/>
<circle cx="294.0" cy="62.6" r="2.75"/>
<circle cx="296.6" cy="63.9" r="2.75"/>
<circle cx="294.9" cy="65.1" r="2.75"/>
<circle cx="295.5" cy="66.3" r="2.75"/>
<circle cx="295.1" cy="67.6" r="2.75"/>
<circle cx="296.6" cy="68.8" r="2.75"/>
<circle cx="296.6" cy="70.1" r="2.75"/>
<circle cx="294.9" cy="71.3" r="2.75"/>
<circle cx="294.3" cy="72.6" r="2.75"/>
<circle cx="295.0" cy="73.8" r="2.75"/>
<circle cx="295.4" cy="75.1" r="2.75"/>
<circle cx="294.2" cy="76.3" r="2.75"/>
<circle cx="294.5" cy="77.6" r="2.75"/>
<circle cx="296.6" cy="78.8" r="2.75"/>
<circle cx="296.4" cy="80.1" r="2.75"/>
<circle cx="297.4" cy="81.3" r="2.75"/>
<circle cx="297.4" cy="82.6" r="2.75"/>
<circle cx="296.6" cy="83.7" r="2.75"/>
<circle cx="297.5" cy="18.2" r="2.75"/>
<circle cx="295.0" cy="92.2" r="2.75"/>
</g>
<g fill="#F97E6D">
<rect x="300.10" y="27.20" width="7.2" height="65.20" rx="3.6"/>
<circle cx="303.2" cy="28.8" r="2.75"/>
<circle cx="302.5" cy="30.0" r="2.75"/>
<circle cx="303.0" cy="31.2" r="2.75"/>
<circle cx="303.6" cy="32.5" r="2.75"/>
<circle cx="303.8" cy="33.8" r="2.75"/>
<circle cx="303.9" cy="35.0" r="2.75"/>
<circle cx="303.2" cy="36.2" r="2.75"/>
<circle cx="305.0" cy="37.5" r="2.75"/>
<circle cx="302.9" cy="38.8" r="2.75"/>
<circle cx="303.6" cy="40.0" r="2.75"/>
<circle cx="305.1" cy="41.2" r="2.75"/>
<circle cx="304.8" cy="42.5" r="2.75"/>
<circle cx="303.0" cy="43.8" r="2.75"/>
<circle cx="302.8" cy="45.0" r="2.75"/>
<circle cx="304.8" cy="46.2" r="2.75"/>
<circle cx="301.9" cy="47.5" r="2.75"/>
<circle cx="302.4" cy="48.8" r="2.75"/>
<circle cx="303.8" cy="50.0" r="2.75"/>
<circle cx="303.8" cy="51.2" r="2.75"/>
<circle cx="302.5" cy="52.5" r="2.75"/>
<circle cx="302.1" cy="53.8" r="2.75"/>
<circle cx="302.6" cy="55.0" r="2.75"/>
<circle cx="304.7" cy="56.2" r="2.75"/>
<circle cx="303.6" cy="57.5" r="2.75"/>
<circle cx="305.4" cy="58.8" r="2.75"/>
<circle cx="304.7" cy="60.0" r="2.75"/>
<circle cx="305.4" cy="61.2" r="2.75"/>
<circle cx="302.0" cy="62.5" r="2.75"/>
<circle cx="302.6" cy="63.8" r="2.75"/>
<circle cx="301.9" cy="65.0" r="2.75"/>
<circle cx="303.5" cy="66.2" r="2.75"/>
<circle cx="303.1" cy="67.5" r="2.75"/>
<circle cx="302.1" cy="68.8" r="2.75"/>
<circle cx="303.9" cy="70.0" r="2.75"/>
<circle cx="302.2" cy="71.2" r="2.75"/>
<circle cx="303.0" cy="72.5" r="2.75"/>
<circle cx="302.8" cy="73.8" r="2.75"/>
<circle cx="304.8" cy="75.0" r="2.75"/>
<circle cx="303.4" cy="76.2" r="2.75"/>
<circle cx="302.8" cy="77.5" r="2.75"/>
<circle cx="302.1" cy="78.8" r="2.75"/>
<circle cx="303.4" cy="80.0" r="2.75"/>
<circle cx="304.2" cy="81.2" r="2.75"/>
<circle cx="304.3" cy="82.5" r="2.75"/>
<circle cx="305.2" cy="83.8" r="2.75"/>
<circle cx="304.8" cy="85.0" r="2.75"/>
<circle cx="302.8" cy="86.2" r="2.75"/>
<circle cx="302.4" cy="87.5" r="2.75"/>
<circle cx="304.6" cy="88.8" r="2.75"/>
<circle cx="304.7" cy="90.0" r="2.75"/>
<circle cx="303.7" cy="90.8" r="2.75"/>
</g>
<g fill="#7EAFDB">
<rect x="310.40" y="105.20" width="7.2" height="46.30" rx="3.6"/>
<circle cx="314.5" cy="98.2" r="2.75"/>
<circle cx="314.1" cy="99.5" r="2.75"/>
<circle cx="313.6" cy="100.8" r="2.75"/>
<circle cx="313.5" cy="102.0" r="2.75"/>
<circle cx="313.2" cy="103.2" r="2.75"/>
<circle cx="314.5" cy="104.5" r="2.75"/>
<circle cx="315.4" cy="105.8" r="2.75"/>
<circle cx="315.5" cy="107.0" r="2.75"/>
<circle cx="313.9" cy="108.2" r="2.75"/>
<circle cx="314.6" cy="109.5" r="2.75"/>
<circle cx="315.5" cy="110.8" r="2.75"/>
<circle cx="315.1" cy="112.0" r="2.75"/>
<circle cx="314.4" cy="113.2" r="2.75"/>
<circle cx="313.7" cy="114.5" r="2.75"/>
<circle cx="314.1" cy="115.8" r="2.75"/>
<circle cx="312.8" cy="117.0" r="2.75"/>
<circle cx="312.9" cy="118.2" r="2.75"/>
<circle cx="314.7" cy="119.5" r="2.75"/>
<circle cx="315.8" cy="120.8" r="2.75"/>
<circle cx="314.2" cy="122.0" r="2.75"/>
<circle cx="313.7" cy="123.2" r="2.75"/>
<circle cx="313.5" cy="124.5" r="2.75"/>
<circle cx="313.8" cy="125.8" r="2.75"/>
<circle cx="315.1" cy="127.0" r="2.75"/>
<circle cx="313.8" cy="128.2" r="2.75"/>
<circle cx="315.7" cy="129.5" r="2.75"/>
<circle cx="312.8" cy="130.8" r="2.75"/>
<circle cx="313.3" cy="132.0" r="2.75"/>
<circle cx="314.1" cy="133.2" r="2.75"/>
<circle cx="313.7" cy="134.5" r="2.75"/>
<circle cx="315.3" cy="135.8" r="2.75"/>
<circle cx="315.2" cy="137.0" r="2.75"/>
<circle cx="315.6" cy="138.2" r="2.75"/>
<circle cx="314.4" cy="139.5" r="2.75"/>
<circle cx="312.3" cy="140.8" r="2.75"/>
<circle cx="314.3" cy="142.0" r="2.75"/>
<circle cx="314.2" cy="143.2" r="2.75"/>
<circle cx="314.0" cy="144.5" r="2.75"/>
<circle cx="313.2" cy="145.8" r="2.75"/>
<circle cx="314.8" cy="147.0" r="2.75"/>
<circle cx="315.5" cy="148.2" r="2.75"/>
<circle cx="312.6" cy="149.5" r="2.75"/>
<circle cx="314.4" cy="149.9" r="2.75"/>
</g>
<g fill="#F97E6D">
<rect x="318.10" y="86.70" width="7.2" height="64.80" rx="3.6"/>
<circle cx="321.2" cy="88.2" r="2.75"/>
<circle cx="321.8" cy="89.5" r="2.75"/>
<circle cx="323.1" cy="90.8" r="2.75"/>
<circle cx="323.4" cy="92.0" r="2.75"/>
<circle cx="322.2" cy="93.2" r="2.75"/>
<circle cx="320.6" cy="94.5" r="2.75"/>
<circle cx="323.2" cy="95.8" r="2.75"/>
<circle cx="320.6" cy="97.0" r="2.75"/>
<circle cx="321.3" cy="98.2" r="2.75"/>
<circle cx="322.9" cy="99.5" r="2.75"/>
<circle cx="321.0" cy="100.8" r="2.75"/>
<circle cx="320.9" cy="102.0" r="2.75"/>
<circle cx="323.3" cy="103.2" r="2.75"/>
<circle cx="323.3" cy="104.5" r="2.75"/>
<circle cx="321.0" cy="105.8" r="2.75"/>
<circle cx="321.3" cy="107.0" r="2.75"/>
<circle cx="320.9" cy="108.2" r="2.75"/>
<circle cx="320.4" cy="109.5" r="2.75"/>
<circle cx="320.8" cy="110.8" r="2.75"/>
<circle cx="323.4" cy="112.0" r="2.75"/>
<circle cx="320.2" cy="113.2" r="2.75"/>
<circle cx="320.7" cy="114.5" r="2.75"/>
<circle cx="320.6" cy="115.8" r="2.75"/>
<circle cx="320.2" cy="117.0" r="2.75"/>
<circle cx="321.8" cy="118.2" r="2.75"/>
<circle cx="322.6" cy="119.5" r="2.75"/>
<circle cx="322.9" cy="120.8" r="2.75"/>
<circle cx="322.2" cy="122.0" r="2.75"/>
<circle cx="322.8" cy="123.2" r="2.75"/>
<circle cx="319.9" cy="124.5" r="2.75"/>
<circle cx="320.9" cy="125.8" r="2.75"/>
<circle cx="323.4" cy="127.0" r="2.75"/>
<circle cx="320.1" cy="128.2" r="2.75"/>
<circle cx="320.9" cy="129.5" r="2.75"/>
<circle cx="321.6" cy="130.8" r="2.75"/>
<circle cx="320.9" cy="132.0" r="2.75"/>
<circle cx="321.9" cy="133.2" r="2.75"/>
<circle cx="320.1" cy="134.5" r="2.75"/>
<circle cx="320.7" cy="135.8" r="2.75"/>
<circle cx="323.3" cy="137.0" r="2.75"/>
<circle cx="320.4" cy="138.2" r="2.75"/>
<circle cx="323.2" cy="139.5" r="2.75"/>
<circle cx="320.5" cy="140.8" r="2.75"/>
<circle cx="323.5" cy="142.0" r="2.75"/>
<circle cx="322.3" cy="143.2" r="2.75"/>
<circle cx="322.2" cy="144.5" r="2.75"/>
<circle cx="320.4" cy="145.8" r="2.75"/>
<circle cx="320.1" cy="147.0" r="2.75"/>
<circle cx="322.6" cy="148.2" r="2.75"/>
<circle cx="320.5" cy="149.5" r="2.75"/>
<circle cx="321.0" cy="149.9" r="2.75"/>
<circle cx="320.5" cy="74.5" r="2.75"/>
</g>
<g fill="#7EAFDB">
<rect x="328.00" y="53.00" width="7.2" height="16.80" rx="3.6"/>
<circle cx="332.8" cy="54.5" r="2.75"/>
<circle cx="332.9" cy="55.8" r="2.75"/>
<circle cx="330.0" cy="57.0" r="2.75"/>
<circle cx="333.3" cy="58.3" r="2.75"/>
<circle cx="331.7" cy="59.5" r="2.75"/>
<circle cx="331.2" cy="60.8" r="2.75"/>
<circle cx="330.2" cy="62.0" r="2.75"/>
<circle cx="331.2" cy="63.3" r="2.75"/>
<circle cx="333.4" cy="64.5" r="2.75"/>
<circle cx="330.8" cy="65.8" r="2.75"/>
<circle cx="330.3" cy="67.0" r="2.75"/>
<circle cx="330.7" cy="68.2" r="2.75"/>
</g>
<g fill="#F97E6D">
<rect x="335.90" y="52.20" width="7.2" height="17.60" rx="3.6"/>
<circle cx="338.2" cy="53.8" r="2.75"/>
<circle cx="339.0" cy="55.0" r="2.75"/>
<circle cx="341.0" cy="56.2" r="2.75"/>
<circle cx="338.0" cy="57.5" r="2.75"/>
<circle cx="338.4" cy="58.8" r="2.75"/>
<circle cx="341.1" cy="60.0" r="2.75"/>
<circle cx="341.3" cy="61.2" r="2.75"/>
<circle cx="341.2" cy="62.5" r="2.75"/>
<circle cx="338.6" cy="63.8" r="2.75"/>
<circle cx="339.0" cy="65.0" r="2.75"/>
<circle cx="341.1" cy="66.2" r="2.75"/>
<circle cx="339.4" cy="67.5" r="2.75"/>
<circle cx="340.0" cy="68.2" r="2.75"/>
</g>
<g fill="#7EAFDB">
<rect x="346.70" y="72.20" width="7.2" height="26.60" rx="3.6"/>
<circle cx="349.6" cy="73.8" r="2.75"/>
<circle cx="348.6" cy="75.0" r="2.75"/>
<circle cx="349.7" cy="76.2" r="2.75"/>
<circle cx="351.2" cy="77.5" r="2.75"/>
<circle cx="351.3" cy="78.8" r="2.75"/>
<circle cx="350.5" cy="80.0" r="2.75"/>
<circle cx="350.2" cy="81.2" r="2.75"/>
<circle cx="350.4" cy="82.5" r="2.75"/>
<circle cx="350.1" cy="83.8" r="2.75"/>
<circle cx="350.4" cy="85.0" r="2.75"/>
<circle cx="351.5" cy="86.2" r="2.75"/>
<circle cx="349.2" cy="87.5" r="2.75"/>
<circle cx="350.6" cy="88.8" r="2.75"/>
<circle cx="351.9" cy="90.0" r="2.75"/>
<circle cx="351.6" cy="91.2" r="2.75"/>
<circle cx="349.1" cy="92.5" r="2.75"/>
<circle cx="352.0" cy="93.8" r="2.75"/>
<circle cx="351.5" cy="95.0" r="2.75"/>
<circle cx="349.1" cy="96.2" r="2.75"/>
<circle cx="349.7" cy="97.2" r="2.75"/>
</g>
<g fill="#F97E6D">
<rect x="354.40" y="72.50" width="7.2" height="24.80" rx="3.6"/>
<circle cx="356.9" cy="74.0" r="2.75"/>
<circle cx="356.4" cy="75.3" r="2.75"/>
<circle cx="359.7" cy="76.5" r="2.75"/>
<circle cx="357.7" cy="77.8" r="2.75"/>
<circle cx="359.3" cy="79.0" r="2.75"/>
<circle cx="356.6" cy="80.3" r="2.75"/>
<circle cx="356.3" cy="81.5" r="2.75"/>
<circle cx="359.3" cy="82.8" r="2.75"/>
<circle cx="359.1" cy="84.0" r="2.75"/>
<circle cx="359.8" cy="85.3" r="2.75"/>
<circle cx="358.7" cy="86.5" r="2.75"/>
<circle cx="358.1" cy="87.8" r="2.75"/>
<circle cx="359.0" cy="89.0" r="2.75"/>
<circle cx="356.5" cy="90.3" r="2.75"/>
<circle cx="358.1" cy="91.5" r="2.75"/>
<circle cx="357.8" cy="92.8" r="2.75"/>
<circle cx="356.7" cy="94.0" r="2.75"/>
<circle cx="358.4" cy="95.3" r="2.75"/>
<circle cx="357.6" cy="95.8" r="2.75"/>
</g>
<g fill="#7EAFDB">
<rect x="364.40" y="73.00" width="7.2" height="23.10" rx="3.6"/>
<circle cx="368.0" cy="74.5" r="2.75"/>
<circle cx="367.5" cy="75.8" r="2.75"/>
<circle cx="367.3" cy="77.0" r="2.75"/>
<circle cx="367.5" cy="78.3" r="2.75"/>
<circle cx="368.4" cy="79.5" r="2.75"/>
<circle cx="369.7" cy="80.8" r="2.75"/>
<circle cx="369.6" cy="82.0" r="2.75"/>
<circle cx="369.3" cy="83.3" r="2.75"/>
<circle cx="369.2" cy="84.5" r="2.75"/>
<circle cx="367.2" cy="85.8" r="2.75"/>
<circle cx="369.7" cy="87.0" r="2.75"/>
<circle cx="367.2" cy="88.3" r="2.75"/>
<circle cx="366.6" cy="89.5" r="2.75"/>
<circle cx="368.0" cy="90.8" r="2.75"/>
<circle cx="368.8" cy="92.0" r="2.75"/>
<circle cx="367.4" cy="93.3" r="2.75"/>
<circle cx="368.5" cy="94.5" r="2.75"/>
<circle cx="367.5" cy="94.5" r="2.75"/>
</g>
<g fill="#F97E6D">
<rect x="372.10" y="70.20" width="7.2" height="25.00" rx="3.6"/>
<circle cx="377.4" cy="71.8" r="2.75"/>
<circle cx="375.5" cy="73.0" r="2.75"/>
<circle cx="375.6" cy="74.2" r="2.75"/>
<circle cx="375.8" cy="75.5" r="2.75"/>
<circle cx="377.0" cy="76.8" r="2.75"/>
<circle cx="377.5" cy="78.0" r="2.75"/>
<circle cx="375.8" cy="79.2" r="2.75"/>
<circle cx="375.5" cy="80.5" r="2.75"/>
<circle cx="376.1" cy="81.8" r="2.75"/>
<circle cx="374.1" cy="83.0" r="2.75"/>
<circle cx="375.4" cy="84.2" r="2.75"/>
<circle cx="377.0" cy="85.5" r="2.75"/>
<circle cx="376.7" cy="86.8" r="2.75"/>
<circle cx="374.1" cy="88.0" r="2.75"/>
<circle cx="377.0" cy="89.2" r="2.75"/>
<circle cx="375.3" cy="90.5" r="2.75"/>
<circle cx="377.4" cy="91.8" r="2.75"/>
<circle cx="375.2" cy="93.0" r="2.75"/>
<circle cx="375.0" cy="93.7" r="2.75"/>
</g>
<g fill="#7EAFDB">
<rect x="382.40" y="73.60" width="7.2" height="25.20" rx="3.6"/>
<circle cx="386.2" cy="75.2" r="2.75"/>
<circle cx="387.4" cy="76.4" r="2.75"/>
<circle cx="385.8" cy="77.7" r="2.75"/>
<circle cx="387.3" cy="78.9" r="2.75"/>
<circle cx="386.8" cy="80.2" r="2.75"/>
<circle cx="385.5" cy="81.4" r="2.75"/>
<circle cx="385.3" cy="82.7" r="2.75"/>
<circle cx="386.0" cy="83.9" r="2.75"/>
<circle cx="385.6" cy="85.2" r="2.75"/>
<circle cx="385.5" cy="86.4" r="2.75"/>
<circle cx="386.5" cy="87.7" r="2.75"/>
<circle cx="387.4" cy="88.9" r="2.75"/>
<circle cx="386.3" cy="90.2" r="2.75"/>
<circle cx="384.7" cy="91.4" r="2.75"/>
<circle cx="385.0" cy="92.7" r="2.75"/>
<circle cx="385.5" cy="93.9" r="2.75"/>
<circle cx="386.4" cy="95.2" r="2.75"/>
<circle cx="384.7" cy="96.4" r="2.75"/>
<circle cx="385.0" cy="97.2" r="2.75"/>
</g>
<g fill="#F97E6D">
<rect x="390.40" y="71.20" width="7.2" height="23.10" rx="3.6"/>
<circle cx="393.4" cy="72.8" r="2.75"/>
<circle cx="393.2" cy="74.0" r="2.75"/>
<circle cx="392.3" cy="75.2" r="2.75"/>
<circle cx="394.1" cy="76.5" r="2.75"/>
<circle cx="395.5" cy="77.8" r="2.75"/>
<circle cx="394.1" cy="79.0" r="2.75"/>
<circle cx="394.9" cy="80.2" r="2.75"/>
<circle cx="395.2" cy="81.5" r="2.75"/>
<circle cx="395.2" cy="82.8" r="2.75"/>
<circle cx="395.5" cy="84.0" r="2.75"/>
<circle cx="393.8" cy="85.2" r="2.75"/>
<circle cx="394.7" cy="86.5" r="2.75"/>
<circle cx="392.6" cy="87.8" r="2.75"/>
<circle cx="395.4" cy="89.0" r="2.75"/>
<circle cx="393.6" cy="90.2" r="2.75"/>
<circle cx="393.9" cy="91.5" r="2.75"/>
<circle cx="395.4" cy="92.8" r="2.75"/>
<circle cx="393.5" cy="92.8" r="2.75"/>
</g>
<g fill="#7EAFDB">
<rect x="400.40" y="43.00" width="7.2" height="16.80" rx="3.6"/>
<circle cx="402.9" cy="44.5" r="2.75"/>
<circle cx="405.2" cy="45.8" r="2.75"/>
<circle cx="404.4" cy="47.0" r="2.75"/>
<circle cx="402.5" cy="48.3" r="2.75"/>
<circle cx="402.3" cy="49.5" r="2.75"/>
<circle cx="403.5" cy="50.8" r="2.75"/>
<circle cx="402.2" cy="52.0" r="2.75"/>
<circle cx="405.2" cy="53.3" r="2.75"/>
<circle cx="402.9" cy="54.5" r="2.75"/>
<circle cx="403.2" cy="55.8" r="2.75"/>
<circle cx="403.6" cy="57.0" r="2.75"/>
<circle cx="404.0" cy="58.2" r="2.75"/>
<circle cx="405.5" cy="77.6" r="2.75"/>
<circle cx="403.0" cy="103.6" r="2.75"/>
</g>
<g fill="#F97E6D">
<rect x="408.40" y="42.20" width="7.2" height="22.80" rx="3.6"/>
<circle cx="411.8" cy="43.8" r="2.75"/>
<circle cx="412.5" cy="45.0" r="2.75"/>
<circle cx="412.6" cy="46.2" r="2.75"/>
<circle cx="411.8" cy="47.5" r="2.75"/>
<circle cx="410.5" cy="48.8" r="2.75"/>
<circle cx="413.7" cy="50.0" r="2.75"/>
<circle cx="412.7" cy="51.2" r="2.75"/>
<circle cx="410.5" cy="52.5" r="2.75"/>
<circle cx="411.8" cy="53.8" r="2.75"/>
<circle cx="412.9" cy="55.0" r="2.75"/>
<circle cx="413.8" cy="56.2" r="2.75"/>
<circle cx="410.4" cy="57.5" r="2.75"/>
<circle cx="410.2" cy="58.8" r="2.75"/>
<circle cx="411.9" cy="60.0" r="2.75"/>
<circle cx="411.7" cy="61.2" r="2.75"/>
<circle cx="413.4" cy="62.5" r="2.75"/>
<circle cx="412.8" cy="63.5" r="2.75"/>
</g>
<g fill="#7EAFDB">
<rect x="418.40" y="79.90" width="7.2" height="21.60" rx="3.6"/>
<circle cx="421.4" cy="81.5" r="2.75"/>
<circle cx="421.7" cy="82.7" r="2.75"/>
<circle cx="422.3" cy="84.0" r="2.75"/>
<circle cx="423.4" cy="85.2" r="2.75"/>
<circle cx="420.9" cy="86.5" r="2.75"/>
<circle cx="421.6" cy="87.7" r="2.75"/>
<circle cx="420.5" cy="89.0" r="2.75"/>
<circle cx="422.5" cy="90.2" r="2.75"/>
<circle cx="420.3" cy="91.5" r="2.75"/>
<circle cx="423.6" cy="92.7" r="2.75"/>
<circle cx="422.1" cy="94.0" r="2.75"/>
<circle cx="422.3" cy="95.2" r="2.75"/>
<circle cx="420.5" cy="96.5" r="2.75"/>
<circle cx="421.0" cy="97.7" r="2.75"/>
<circle cx="421.9" cy="99.0" r="2.75"/>
<circle cx="422.9" cy="100.0" r="2.75"/>
<circle cx="423.5" cy="108.5" r="2.75"/>
</g>
<g fill="#F97E6D">
<rect x="426.20" y="78.20" width="7.2" height="23.00" rx="3.6"/>
<circle cx="429.9" cy="79.8" r="2.75"/>
<circle cx="429.0" cy="81.0" r="2.75"/>
<circle cx="431.5" cy="82.2" r="2.75"/>
<circle cx="430.4" cy="83.5" r="2.75"/>
<circle cx="429.9" cy="84.8" r="2.75"/>
<circle cx="428.7" cy="86.0" r="2.75"/>
<circle cx="429.1" cy="87.2" r="2.75"/>
<circle cx="431.2" cy="88.5" r="2.75"/>
<circle cx="428.5" cy="89.8" r="2.75"/>
<circle cx="429.9" cy="91.0" r="2.75"/>
<circle cx="430.2" cy="92.2" r="2.75"/>
<circle cx="429.3" cy="93.5" r="2.75"/>
<circle cx="430.8" cy="94.8" r="2.75"/>
<circle cx="431.3" cy="96.0" r="2.75"/>
<circle cx="431.1" cy="97.2" r="2.75"/>
<circle cx="430.7" cy="98.5" r="2.75"/>
<circle cx="429.1" cy="99.7" r="2.75"/>
<circle cx="428.0" cy="73.6" r="2.75"/>
</g>
<g fill="#7EAFDB">
<rect x="436.60" y="137.20" width="7.2" height="39.80" rx="3.6"/>
<circle cx="439.5" cy="128.2" r="2.75"/>
<circle cx="440.1" cy="129.5" r="2.75"/>
<circle cx="439.9" cy="130.8" r="2.75"/>
<circle cx="439.7" cy="132.0" r="2.75"/>
<circle cx="440.8" cy="133.2" r="2.75"/>
<circle cx="439.7" cy="134.5" r="2.75"/>
<circle cx="440.7" cy="135.8" r="2.75"/>
<circle cx="441.8" cy="137.0" r="2.75"/>
<circle cx="438.8" cy="138.2" r="2.75"/>
<circle cx="441.7" cy="139.5" r="2.75"/>
<circle cx="439.8" cy="140.8" r="2.75"/>
<circle cx="439.2" cy="142.0" r="2.75"/>
<circle cx="439.1" cy="143.2" r="2.75"/>
<circle cx="438.5" cy="144.5" r="2.75"/>
<circle cx="440.2" cy="145.8" r="2.75"/>
<circle cx="439.8" cy="147.0" r="2.75"/>
<circle cx="441.5" cy="148.2" r="2.75"/>
<circle cx="441.4" cy="149.5" r="2.75"/>
<circle cx="438.6" cy="150.8" r="2.75"/>
<circle cx="439.8" cy="152.0" r="2.75"/>
<circle cx="439.8" cy="153.2" r="2.75"/>
<circle cx="439.0" cy="154.5" r="2.75"/>
<circle cx="439.3" cy="155.8" r="2.75"/>
<circle cx="439.3" cy="157.0" r="2.75"/>
<circle cx="440.9" cy="158.2" r="2.75"/>
<circle cx="439.6" cy="159.5" r="2.75"/>
<circle cx="438.8" cy="160.8" r="2.75"/>
<circle cx="439.2" cy="162.0" r="2.75"/>
<circle cx="440.0" cy="163.2" r="2.75"/>
<circle cx="440.4" cy="164.5" r="2.75"/>
<circle cx="439.3" cy="165.8" r="2.75"/>
<circle cx="440.9" cy="167.0" r="2.75"/>
<circle cx="439.2" cy="168.2" r="2.75"/>
<circle cx="440.8" cy="169.5" r="2.75"/>
<circle cx="440.6" cy="170.8" r="2.75"/>
<circle cx="439.0" cy="172.0" r="2.75"/>
<circle cx="441.1" cy="173.2" r="2.75"/>
<circle cx="439.8" cy="174.5" r="2.75"/>
<circle cx="440.3" cy="175.4" r="2.75"/>
<circle cx="440.5" cy="121.5" r="2.75"/>
</g>
<g fill="#F97E6D">
<rect x="444.40" y="128.20" width="7.2" height="42.60" rx="3.6"/>
<circle cx="448.2" cy="119.8" r="2.75"/>
<circle cx="448.2" cy="121.0" r="2.75"/>
<circle cx="447.9" cy="122.2" r="2.75"/>
<circle cx="447.3" cy="123.5" r="2.75"/>
<circle cx="448.5" cy="124.8" r="2.75"/>
<circle cx="448.6" cy="126.0" r="2.75"/>
<circle cx="448.0" cy="127.2" r="2.75"/>
<circle cx="448.3" cy="128.5" r="2.75"/>
<circle cx="447.2" cy="129.8" r="2.75"/>
<circle cx="449.4" cy="131.0" r="2.75"/>
<circle cx="448.7" cy="132.2" r="2.75"/>
<circle cx="447.0" cy="133.5" r="2.75"/>
<circle cx="449.1" cy="134.8" r="2.75"/>
<circle cx="449.8" cy="136.0" r="2.75"/>
<circle cx="447.4" cy="137.2" r="2.75"/>
<circle cx="449.8" cy="138.5" r="2.75"/>
<circle cx="447.9" cy="139.8" r="2.75"/>
<circle cx="446.8" cy="141.0" r="2.75"/>
<circle cx="448.8" cy="142.2" r="2.75"/>
<circle cx="447.4" cy="143.5" r="2.75"/>
<circle cx="448.8" cy="144.8" r="2.75"/>
<circle cx="448.3" cy="146.0" r="2.75"/>
<circle cx="446.6" cy="147.2" r="2.75"/>
<circle cx="448.1" cy="148.5" r="2.75"/>
<circle cx="449.3" cy="149.8" r="2.75"/>
<circle cx="447.9" cy="151.0" r="2.75"/>
<circle cx="448.1" cy="152.2" r="2.75"/>
<circle cx="449.3" cy="153.5" r="2.75"/>
<circle cx="447.8" cy="154.8" r="2.75"/>
<circle cx="448.0" cy="156.0" r="2.75"/>
<circle cx="448.3" cy="157.2" r="2.75"/>
<circle cx="449.2" cy="158.5" r="2.75"/>
<circle cx="446.9" cy="159.8" r="2.75"/>
<circle cx="446.5" cy="161.0" r="2.75"/>
<circle cx="448.9" cy="162.2" r="2.75"/>
<circle cx="448.2" cy="163.5" r="2.75"/>
<circle cx="447.3" cy="164.8" r="2.75"/>
<circle cx="449.4" cy="166.0" r="2.75"/>
<circle cx="449.4" cy="167.2" r="2.75"/>
<circle cx="448.1" cy="168.5" r="2.75"/>
<circle cx="449.8" cy="169.8" r="2.75"/>
<circle cx="449.2" cy="171.0" r="2.75"/>
<circle cx="448.6" cy="171.8" r="2.75"/>
<circle cx="446.0" cy="111.8" r="2.75"/>
</g>
<g fill="#7EAFDB">
<rect x="454.90" y="81.20" width="7.2" height="34.90" rx="3.6"/>
<circle cx="457.7" cy="82.8" r="2.75"/>
<circle cx="456.7" cy="84.0" r="2.75"/>
<circle cx="459.1" cy="85.2" r="2.75"/>
<circle cx="459.3" cy="86.5" r="2.75"/>
<circle cx="458.0" cy="87.8" r="2.75"/>
<circle cx="458.4" cy="89.0" r="2.75"/>
<circle cx="458.7" cy="90.2" r="2.75"/>
<circle cx="457.6" cy="91.5" r="2.75"/>
<circle cx="459.2" cy="92.8" r="2.75"/>
<circle cx="458.7" cy="94.0" r="2.75"/>
<circle cx="458.1" cy="95.2" r="2.75"/>
<circle cx="457.1" cy="96.5" r="2.75"/>
<circle cx="458.7" cy="97.8" r="2.75"/>
<circle cx="457.9" cy="99.0" r="2.75"/>
<circle cx="459.3" cy="100.2" r="2.75"/>
<circle cx="457.3" cy="101.5" r="2.75"/>
<circle cx="458.1" cy="102.8" r="2.75"/>
<circle cx="457.4" cy="104.0" r="2.75"/>
<circle cx="458.2" cy="105.2" r="2.75"/>
<circle cx="458.8" cy="106.5" r="2.75"/>
<circle cx="457.1" cy="107.8" r="2.75"/>
<circle cx="456.9" cy="109.0" r="2.75"/>
<circle cx="458.4" cy="110.2" r="2.75"/>
<circle cx="457.4" cy="111.5" r="2.75"/>
<circle cx="458.5" cy="112.8" r="2.75"/>
<circle cx="457.3" cy="114.0" r="2.75"/>
<circle cx="457.5" cy="114.5" r="2.75"/>
</g>
<g fill="#F97E6D">
<rect x="462.60" y="81.20" width="7.2" height="34.00" rx="3.6"/>
<circle cx="466.3" cy="82.8" r="2.75"/>
<circle cx="467.7" cy="84.0" r="2.75"/>
<circle cx="467.5" cy="85.2" r="2.75"/>
<circle cx="466.3" cy="86.5" r="2.75"/>
<circle cx="465.8" cy="87.8" r="2.75"/>
<circle cx="464.6" cy="89.0" r="2.75"/>
<circle cx="465.4" cy="90.2" r="2.75"/>
<circle cx="465.5" cy="91.5" r="2.75"/>
<circle cx="467.8" cy="92.8" r="2.75"/>
<circle cx="464.8" cy="94.0" r="2.75"/>
<circle cx="467.8" cy="95.2" r="2.75"/>
<circle cx="466.1" cy="96.5" r="2.75"/>
<circle cx="466.0" cy="97.8" r="2.75"/>
<circle cx="465.3" cy="99.0" r="2.75"/>
<circle cx="467.9" cy="100.2" r="2.75"/>
<circle cx="465.1" cy="101.5" r="2.75"/>
<circle cx="466.5" cy="102.8" r="2.75"/>
<circle cx="466.2" cy="104.0" r="2.75"/>
<circle cx="465.1" cy="105.2" r="2.75"/>
<circle cx="465.2" cy="106.5" r="2.75"/>
<circle cx="467.9" cy="107.8" r="2.75"/>
<circle cx="467.2" cy="109.0" r="2.75"/>
<circle cx="467.0" cy="110.2" r="2.75"/>
<circle cx="467.7" cy="111.5" r="2.75"/>
<circle cx="464.8" cy="112.8" r="2.75"/>
<circle cx="466.7" cy="113.7" r="2.75"/>
</g>
<g fill="#7EAFDB">
<rect x="473.00" y="105.20" width="7.2" height="36.30" rx="3.6"/>
<circle cx="477.0" cy="97.2" r="2.75"/>
<circle cx="476.2" cy="98.5" r="2.75"/>
<circle cx="476.5" cy="99.8" r="2.75"/>
<circle cx="477.4" cy="101.0" r="2.75"/>
<circle cx="476.3" cy="102.2" r="2.75"/>
<circle cx="477.0" cy="103.5" r="2.75"/>
<circle cx="475.4" cy="104.8" r="2.75"/>
<circle cx="477.2" cy="106.0" r="2.75"/>
<circle cx="475.8" cy="107.2" r="2.75"/>
<circle cx="476.6" cy="108.5" r="2.75"/>
<circle cx="476.1" cy="109.8" r="2.75"/>
<circle cx="477.9" cy="111.0" r="2.75"/>
<circle cx="477.5" cy="112.2" r="2.75"/>
<circle cx="476.6" cy="113.5" r="2.75"/>
<circle cx="477.3" cy="114.8" r="2.75"/>
<circle cx="476.3" cy="116.0" r="2.75"/>
<circle cx="477.7" cy="117.2" r="2.75"/>
<circle cx="475.7" cy="118.5" r="2.75"/>
<circle cx="476.8" cy="119.8" r="2.75"/>
<circle cx="476.9" cy="121.0" r="2.75"/>
<circle cx="476.2" cy="122.2" r="2.75"/>
<circle cx="475.0" cy="123.5" r="2.75"/>
<circle cx="475.4" cy="124.8" r="2.75"/>
<circle cx="477.1" cy="126.0" r="2.75"/>
<circle cx="475.6" cy="127.2" r="2.75"/>
<circle cx="477.5" cy="128.5" r="2.75"/>
<circle cx="476.6" cy="129.8" r="2.75"/>
<circle cx="478.2" cy="131.0" r="2.75"/>
<circle cx="477.9" cy="132.2" r="2.75"/>
<circle cx="477.4" cy="133.5" r="2.75"/>
<circle cx="476.1" cy="134.8" r="2.75"/>
<circle cx="475.0" cy="136.0" r="2.75"/>
<circle cx="476.8" cy="137.2" r="2.75"/>
<circle cx="477.5" cy="138.5" r="2.75"/>
<circle cx="478.1" cy="139.8" r="2.75"/>
<circle cx="475.9" cy="139.9" r="2.75"/>
</g>
<g fill="#F97E6D">
<rect x="480.80" y="103.00" width="7.2" height="41.30" rx="3.6"/>
<circle cx="483.2" cy="104.5" r="2.75"/>
<circle cx="486.1" cy="105.8" r="2.75"/>
<circle cx="485.3" cy="107.0" r="2.75"/>
<circle cx="484.3" cy="108.3" r="2.75"/>
<circle cx="485.3" cy="109.5" r="2.75"/>
<circle cx="483.1" cy="110.8" r="2.75"/>
<circle cx="484.6" cy="112.0" r="2.75"/>
<circle cx="485.0" cy="113.3" r="2.75"/>
<circle cx="484.8" cy="114.5" r="2.75"/>
<circle cx="483.2" cy="115.8" r="2.75"/>
<circle cx="483.1" cy="117.0" r="2.75"/>
<circle cx="484.8" cy="118.3" r="2.75"/>
<circle cx="485.8" cy="119.5" r="2.75"/>
<circle cx="483.1" cy="120.8" r="2.75"/>
<circle cx="482.6" cy="122.0" r="2.75"/>
<circle cx="482.9" cy="123.3" r="2.75"/>
<circle cx="485.4" cy="124.5" r="2.75"/>
<circle cx="484.0" cy="125.8" r="2.75"/>
<circle cx="484.2" cy="127.0" r="2.75"/>
<circle cx="486.2" cy="128.3" r="2.75"/>
<circle cx="484.8" cy="129.6" r="2.75"/>
<circle cx="483.5" cy="130.8" r="2.75"/>
<circle cx="485.1" cy="132.1" r="2.75"/>
<circle cx="482.6" cy="133.3" r="2.75"/>
<circle cx="483.6" cy="134.6" r="2.75"/>
<circle cx="485.1" cy="135.8" r="2.75"/>
<circle cx="483.2" cy="137.1" r="2.75"/>
<circle cx="482.7" cy="138.3" r="2.75"/>
<circle cx="484.5" cy="139.6" r="2.75"/>
<circle cx="483.8" cy="140.8" r="2.75"/>
<circle cx="486.1" cy="142.1" r="2.75"/>
<circle cx="483.4" cy="142.8" r="2.75"/>
<circle cx="483.0" cy="77.8" r="2.75"/>
<circle cx="483.0" cy="88.2" r="2.75"/>
<circle cx="483.0" cy="148.2" r="2.75"/>
</g>
<line x1="61.00" x2="61.00" y1="111" y2="145.5" stroke="#000" stroke-opacity="0.75" stroke-width="1.2"/>
<line x1="59.00" x2="63.00" y1="128" y2="128" stroke="#151515" stroke-width="1.5"/>
<line x1="69.00" x2="69.00" y1="99" y2="139" stroke="#000" stroke-opacity="0.75" stroke-width="1.2"/>
<line x1="67.00" x2="71.00" y1="119" y2="119" stroke="#151515" stroke-width="1.5"/>
<line x1="65.20" x2="65.20" y1="184.4" y2="188.3" stroke="#000" stroke-width="1.25"/>
<text transform="translate(64.40,192.6) rotate(-45)" font-size="9.1" text-anchor="end" dominant-baseline="hanging" fill="#1A1A1A">aDC</text>
<circle cx="61.10" cy="12.4" r="1.12" fill="#1a1a1a"/>
<circle cx="65.00" cy="12.4" r="1.12" fill="#1a1a1a"/>
<circle cx="68.90" cy="12.4" r="1.12" fill="#1a1a1a"/>
<line x1="79.30" x2="79.30" y1="118" y2="133.6" stroke="#000" stroke-opacity="0.75" stroke-width="1.2"/>
<line x1="77.30" x2="81.30" y1="125.8" y2="125.8" stroke="#151515" stroke-width="1.5"/>
<line x1="87.00" x2="87.00" y1="117" y2="132.7" stroke="#000" stroke-opacity="0.75" stroke-width="1.2"/>
<line x1="85.00" x2="89.00" y1="124.5" y2="124.5" stroke="#151515" stroke-width="1.5"/>
<line x1="83.24" x2="83.24" y1="184.4" y2="188.3" stroke="#000" stroke-width="1.25"/>
<text transform="translate(82.44,192.6) rotate(-45)" font-size="9.1" text-anchor="end" dominant-baseline="hanging" fill="#1A1A1A">B cells</text>
<circle cx="81.09" cy="12.4" r="1.12" fill="#1a1a1a"/>
<circle cx="84.99" cy="12.4" r="1.12" fill="#1a1a1a"/>
<line x1="97.50" x2="97.50" y1="55" y2="60.5" stroke="#000" stroke-opacity="0.75" stroke-width="1.2"/>
<line x1="95.50" x2="99.50" y1="57.8" y2="57.8" stroke="#151515" stroke-width="1.5"/>
<line x1="105.00" x2="105.00" y1="55" y2="60.5" stroke="#000" stroke-opacity="0.75" stroke-width="1.2"/>
<line x1="103.00" x2="107.00" y1="57.6" y2="57.6" stroke="#151515" stroke-width="1.5"/>
<line x1="101.28" x2="101.28" y1="184.4" y2="188.3" stroke="#000" stroke-width="1.25"/>
<text transform="translate(100.48,192.6) rotate(-45)" font-size="9.1" text-anchor="end" dominant-baseline="hanging" fill="#1A1A1A">CD8 T cells</text>
<text x="100.98" y="14.7" font-size="9.6" text-anchor="middle" fill="#1A1A1A">ns</text>
<line x1="115.50" x2="115.50" y1="100.4" y2="118.5" stroke="#000" stroke-opacity="0.75" stroke-width="1.2"/>
<line x1="113.50" x2="117.50" y1="109.5" y2="109.5" stroke="#151515" stroke-width="1.5"/>
<line x1="123.50" x2="123.50" y1="93" y2="115" stroke="#000" stroke-opacity="0.75" stroke-width="1.2"/>
<line x1="121.50" x2="125.50" y1="104" y2="104" stroke="#151515" stroke-width="1.5"/>
<line x1="119.32" x2="119.32" y1="184.4" y2="188.3" stroke="#000" stroke-width="1.25"/>
<text transform="translate(118.52,192.6) rotate(-45)" font-size="9.1" text-anchor="end" dominant-baseline="hanging" fill="#1A1A1A">Cytotoxic cells</text>
<circle cx="115.22" cy="12.4" r="1.12" fill="#1a1a1a"/>
<circle cx="119.12" cy="12.4" r="1.12" fill="#1a1a1a"/>
<circle cx="123.02" cy="12.4" r="1.12" fill="#1a1a1a"/>
<line x1="133.60" x2="133.60" y1="112.4" y2="139" stroke="#000" stroke-opacity="0.75" stroke-width="1.2"/>
<line x1="131.60" x2="135.60" y1="125.8" y2="125.8" stroke="#151515" stroke-width="1.5"/>
<line x1="141.30" x2="141.30" y1="113" y2="138" stroke="#000" stroke-opacity="0.75" stroke-width="1.2"/>
<line x1="139.30" x2="143.30" y1="125.8" y2="125.8" stroke="#151515" stroke-width="1.5"/>
<line x1="137.36" x2="137.36" y1="184.4" y2="188.3" stroke="#000" stroke-width="1.25"/>
<text transform="translate(136.56,192.6) rotate(-45)" font-size="9.1" text-anchor="end" dominant-baseline="hanging" fill="#1A1A1A">DC</text>
<text x="137.06" y="14.7" font-size="9.6" text-anchor="middle" fill="#1A1A1A">ns</text>
<line x1="151.60" x2="151.60" y1="87.3" y2="95.8" stroke="#000" stroke-opacity="0.75" stroke-width="1.2"/>
<line x1="149.60" x2="153.60" y1="91.5" y2="91.5" stroke="#151515" stroke-width="1.5"/>
<line x1="159.00" x2="159.00" y1="83" y2="93.6" stroke="#000" stroke-opacity="0.75" stroke-width="1.2"/>
<line x1="157.00" x2="161.00" y1="88.2" y2="88.2" stroke="#151515" stroke-width="1.5"/>
<line x1="155.40" x2="155.40" y1="184.4" y2="188.3" stroke="#000" stroke-width="1.25"/>
<text transform="translate(154.60,192.6) rotate(-45)" font-size="9.1" text-anchor="end" dominant-baseline="hanging" fill="#1A1A1A">Eosinophils</text>
<circle cx="151.30" cy="12.4" r="1.12" fill="#1a1a1a"/>
<circle cx="155.20" cy="12.4" r="1.12" fill="#1a1a1a"/>
<circle cx="159.10" cy="12.4" r="1.12" fill="#1a1a1a"/>
<line x1="169.30" x2="169.30" y1="87.8" y2="100" stroke="#000" stroke-opacity="0.75" stroke-width="1.2"/>
<line x1="167.30" x2="171.30" y1="94" y2="94" stroke="#151515" stroke-width="1.5"/>
<line x1="177.00" x2="177.00" y1="81.8" y2="97.3" stroke="#000" stroke-opacity="0.75" stroke-width="1.2"/>
<line x1="175.00" x2="179.00" y1="89.6" y2="89.6" stroke="#151515" stroke-width="1.5"/>
<line x1="173.44" x2="173.44" y1="184.4" y2="188.3" stroke="#000" stroke-width="1.25"/>
<text transform="translate(172.64,192.6) rotate(-45)" font-size="9.1" text-anchor="end" dominant-baseline="hanging" fill="#1A1A1A">iDC</text>
<circle cx="169.34" cy="12.4" r="1.12" fill="#1a1a1a"/>
<circle cx="173.24" cy="12.4" r="1.12" fill="#1a1a1a"/>
<circle cx="177.14" cy="12.4" r="1.12" fill="#1a1a1a"/>
<line x1="188.00" x2="188.00" y1="74.5" y2="89" stroke="#000" stroke-opacity="0.75" stroke-width="1.2"/>
<line x1="186.00" x2="190.00" y1="81.8" y2="81.8" stroke="#151515" stroke-width="1.5"/>
<line x1="195.20" x2="195.20" y1="63" y2="83.6" stroke="#000" stroke-opacity="0.75" stroke-width="1.2"/>
<line x1="193.20" x2="197.20" y1="72.7" y2="72.7" stroke="#151515" stroke-width="1.5"/>
<line x1="191.48" x2="191.48" y1="184.4" y2="188.3" stroke="#000" stroke-width="1.25"/>
<text transform="translate(190.68,192.6) rotate(-45)" font-size="9.1" text-anchor="end" dominant-baseline="hanging" fill="#1A1A1A">Macrophages</text>
<circle cx="187.38" cy="12.4" r="1.12" fill="#1a1a1a"/>
<circle cx="191.28" cy="12.4" r="1.12" fill="#1a1a1a"/>
<circle cx="195.18" cy="12.4" r="1.12" fill="#1a1a1a"/>
<line x1="206.00" x2="206.00" y1="112.2" y2="131" stroke="#000" stroke-opacity="0.75" stroke-width="1.2"/>
<line x1="204.00" x2="208.00" y1="121.8" y2="121.8" stroke="#151515" stroke-width="1.5"/>
<line x1="213.60" x2="213.60" y1="112" y2="131.8" stroke="#000" stroke-opacity="0.75" stroke-width="1.2"/>
<line x1="211.60" x2="215.60" y1="122.4" y2="122.4" stroke="#151515" stroke-width="1.5"/>
<line x1="209.52" x2="209.52" y1="184.4" y2="188.3" stroke="#000" stroke-width="1.25"/>
<text transform="translate(208.72,192.6) rotate(-45)" font-size="9.1" text-anchor="end" dominant-baseline="hanging" fill="#1A1A1A">Mast cells</text>
<text x="209.22" y="14.7" font-size="9.6" text-anchor="middle" fill="#1A1A1A">ns</text>
<line x1="223.60" x2="223.60" y1="110.4" y2="129.6" stroke="#000" stroke-opacity="0.75" stroke-width="1.2"/>
<line x1="221.60" x2="225.60" y1="120" y2="120" stroke="#151515" stroke-width="1.5"/>
<line x1="231.50" x2="231.50" y1="101" y2="123.6" stroke="#000" stroke-opacity="0.75" stroke-width="1.2"/>
<line x1="229.50" x2="233.50" y1="112.2" y2="112.2" stroke="#151515" stroke-width="1.5"/>
<line x1="227.56" x2="227.56" y1="184.4" y2="188.3" stroke="#000" stroke-width="1.25"/>
<text transform="translate(226.76,192.6) rotate(-45)" font-size="9.1" text-anchor="end" dominant-baseline="hanging" fill="#1A1A1A">Neutrophils</text>
<circle cx="223.46" cy="12.4" r="1.12" fill="#1a1a1a"/>
<circle cx="227.36" cy="12.4" r="1.12" fill="#1a1a1a"/>
<circle cx="231.26" cy="12.4" r="1.12" fill="#1a1a1a"/>
<line x1="242.10" x2="242.10" y1="69" y2="90" stroke="#000" stroke-opacity="0.75" stroke-width="1.2"/>
<line x1="240.10" x2="244.10" y1="80" y2="80" stroke="#151515" stroke-width="1.5"/>
<line x1="249.40" x2="249.40" y1="74.5" y2="92.7" stroke="#000" stroke-opacity="0.75" stroke-width="1.2"/>
<line x1="247.40" x2="251.40" y1="83.6" y2="83.6" stroke="#151515" stroke-width="1.5"/>
<line x1="245.60" x2="245.60" y1="184.4" y2="188.3" stroke="#000" stroke-width="1.25"/>
<text transform="translate(244.80,192.6) rotate(-45)" font-size="9.1" text-anchor="end" dominant-baseline="hanging" fill="#1A1A1A">NK CD56bright cells</text>
<circle cx="241.50" cy="12.4" r="1.12" fill="#1a1a1a"/>
<circle cx="245.40" cy="12.4" r="1.12" fill="#1a1a1a"/>
<circle cx="249.30" cy="12.4" r="1.12" fill="#1a1a1a"/>
<line x1="260.00" x2="260.00" y1="117.6" y2="137" stroke="#000" stroke-opacity="0.75" stroke-width="1.2"/>
<line x1="258.00" x2="262.00" y1="127.3" y2="127.3" stroke="#151515" stroke-width="1.5"/>
<line x1="267.60" x2="267.60" y1="114.5" y2="134.5" stroke="#000" stroke-opacity="0.75" stroke-width="1.2"/>
<line x1="265.60" x2="269.60" y1="124.2" y2="124.2" stroke="#151515" stroke-width="1.5"/>
<line x1="263.64" x2="263.64" y1="184.4" y2="188.3" stroke="#000" stroke-width="1.25"/>
<text transform="translate(262.84,192.6) rotate(-45)" font-size="9.1" text-anchor="end" dominant-baseline="hanging" fill="#1A1A1A">NK CD56dim cells</text>
<circle cx="259.54" cy="12.4" r="1.12" fill="#1a1a1a"/>
<circle cx="263.44" cy="12.4" r="1.12" fill="#1a1a1a"/>
<circle cx="267.34" cy="12.4" r="1.12" fill="#1a1a1a"/>
<line x1="278.00" x2="278.00" y1="73.6" y2="80" stroke="#000" stroke-opacity="0.75" stroke-width="1.2"/>
<line x1="276.00" x2="280.00" y1="77" y2="77" stroke="#151515" stroke-width="1.5"/>
<line x1="285.80" x2="285.80" y1="70" y2="80" stroke="#000" stroke-opacity="0.75" stroke-width="1.2"/>
<line x1="283.80" x2="287.80" y1="75" y2="75" stroke="#151515" stroke-width="1.5"/>
<line x1="281.68" x2="281.68" y1="184.4" y2="188.3" stroke="#000" stroke-width="1.25"/>
<text transform="translate(280.88,192.6) rotate(-45)" font-size="9.1" text-anchor="end" dominant-baseline="hanging" fill="#1A1A1A">NK cells</text>
<circle cx="277.58" cy="12.4" r="1.12" fill="#1a1a1a"/>
<circle cx="281.48" cy="12.4" r="1.12" fill="#1a1a1a"/>
<circle cx="285.38" cy="12.4" r="1.12" fill="#1a1a1a"/>
<line x1="295.70" x2="295.70" y1="28.2" y2="71" stroke="#000" stroke-opacity="0.75" stroke-width="1.2"/>
<line x1="293.70" x2="297.70" y1="49" y2="49" stroke="#151515" stroke-width="1.5"/>
<line x1="303.70" x2="303.70" y1="38.2" y2="81" stroke="#000" stroke-opacity="0.75" stroke-width="1.2"/>
<line x1="301.70" x2="305.70" y1="59.5" y2="59.5" stroke="#151515" stroke-width="1.5"/>
<line x1="299.72" x2="299.72" y1="184.4" y2="188.3" stroke="#000" stroke-width="1.25"/>
<text transform="translate(298.92,192.6) rotate(-45)" font-size="9.1" text-anchor="end" dominant-baseline="hanging" fill="#1A1A1A">pDC</text>
<circle cx="295.62" cy="12.4" r="1.12" fill="#1a1a1a"/>
<circle cx="299.52" cy="12.4" r="1.12" fill="#1a1a1a"/>
<circle cx="303.42" cy="12.4" r="1.12" fill="#1a1a1a"/>
<line x1="314.00" x2="314.00" y1="116.4" y2="141.8" stroke="#000" stroke-opacity="0.75" stroke-width="1.2"/>
<line x1="312.00" x2="316.00" y1="129" y2="129" stroke="#151515" stroke-width="1.5"/>
<line x1="321.70" x2="321.70" y1="106.4" y2="140" stroke="#000" stroke-opacity="0.75" stroke-width="1.2"/>
<line x1="319.70" x2="323.70" y1="123.3" y2="123.3" stroke="#151515" stroke-width="1.5"/>
<line x1="317.76" x2="317.76" y1="184.4" y2="188.3" stroke="#000" stroke-width="1.25"/>
<text transform="translate(316.96,192.6) rotate(-45)" font-size="9.1" text-anchor="end" dominant-baseline="hanging" fill="#1A1A1A">T cells</text>
<circle cx="313.66" cy="12.4" r="1.12" fill="#1a1a1a"/>
<circle cx="317.56" cy="12.4" r="1.12" fill="#1a1a1a"/>
<circle cx="321.46" cy="12.4" r="1.12" fill="#1a1a1a"/>
<line x1="331.60" x2="331.60" y1="58" y2="65.5" stroke="#000" stroke-opacity="0.75" stroke-width="1.2"/>
<line x1="329.60" x2="333.60" y1="62.4" y2="62.4" stroke="#151515" stroke-width="1.5"/>
<line x1="339.50" x2="339.50" y1="56.4" y2="64.5" stroke="#000" stroke-opacity="0.75" stroke-width="1.2"/>
<line x1="337.50" x2="341.50" y1="61" y2="61" stroke="#151515" stroke-width="1.5"/>
<line x1="335.80" x2="335.80" y1="184.4" y2="188.3" stroke="#000" stroke-width="1.25"/>
<text transform="translate(335.00,192.6) rotate(-45)" font-size="9.1" text-anchor="end" dominant-baseline="hanging" fill="#1A1A1A">T helper cells</text>
<circle cx="331.70" cy="12.4" r="1.12" fill="#1a1a1a"/>
<circle cx="335.60" cy="12.4" r="1.12" fill="#1a1a1a"/>
<circle cx="339.50" cy="12.4" r="1.12" fill="#1a1a1a"/>
<line x1="350.30" x2="350.30" y1="76.7" y2="90" stroke="#000" stroke-opacity="0.75" stroke-width="1.2"/>
<line x1="348.30" x2="352.30" y1="83.6" y2="83.6" stroke="#151515" stroke-width="1.5"/>
<line x1="358.00" x2="358.00" y1="75" y2="89" stroke="#000" stroke-opacity="0.75" stroke-width="1.2"/>
<line x1="356.00" x2="360.00" y1="82.2" y2="82.2" stroke="#151515" stroke-width="1.5"/>
<line x1="353.84" x2="353.84" y1="184.4" y2="188.3" stroke="#000" stroke-width="1.25"/>
<text transform="translate(353.04,192.6) rotate(-45)" font-size="9.1" text-anchor="end" dominant-baseline="hanging" fill="#1A1A1A">Tcm</text>
<circle cx="353.64" cy="12.4" r="1.12" fill="#1a1a1a"/>
<line x1="368.00" x2="368.00" y1="78.5" y2="89" stroke="#000" stroke-opacity="0.75" stroke-width="1.2"/>
<line x1="366.00" x2="370.00" y1="84" y2="84" stroke="#151515" stroke-width="1.5"/>
<line x1="375.70" x2="375.70" y1="76.7" y2="88.7" stroke="#000" stroke-opacity="0.75" stroke-width="1.2"/>
<line x1="373.70" x2="377.70" y1="82.7" y2="82.7" stroke="#151515" stroke-width="1.5"/>
<line x1="371.88" x2="371.88" y1="184.4" y2="188.3" stroke="#000" stroke-width="1.25"/>
<text transform="translate(371.08,192.6) rotate(-45)" font-size="9.1" text-anchor="end" dominant-baseline="hanging" fill="#1A1A1A">Tem</text>
<circle cx="367.78" cy="12.4" r="1.12" fill="#1a1a1a"/>
<circle cx="371.68" cy="12.4" r="1.12" fill="#1a1a1a"/>
<circle cx="375.58" cy="12.4" r="1.12" fill="#1a1a1a"/>
<line x1="386.00" x2="386.00" y1="77.8" y2="87.6" stroke="#000" stroke-opacity="0.75" stroke-width="1.2"/>
<line x1="384.00" x2="388.00" y1="82.7" y2="82.7" stroke="#151515" stroke-width="1.5"/>
<line x1="394.00" x2="394.00" y1="76.7" y2="89" stroke="#000" stroke-opacity="0.75" stroke-width="1.2"/>
<line x1="392.00" x2="396.00" y1="82.7" y2="82.7" stroke="#151515" stroke-width="1.5"/>
<line x1="389.92" x2="389.92" y1="184.4" y2="188.3" stroke="#000" stroke-width="1.25"/>
<text transform="translate(389.12,192.6) rotate(-45)" font-size="9.1" text-anchor="end" dominant-baseline="hanging" fill="#1A1A1A">TFH</text>
<text x="389.62" y="14.7" font-size="9.6" text-anchor="middle" fill="#1A1A1A">ns</text>
<line x1="404.00" x2="404.00" y1="47.3" y2="54.5" stroke="#000" stroke-opacity="0.75" stroke-width="1.2"/>
<line x1="402.00" x2="406.00" y1="51.5" y2="51.5" stroke="#151515" stroke-width="1.5"/>
<line x1="412.00" x2="412.00" y1="46" y2="53.3" stroke="#000" stroke-opacity="0.75" stroke-width="1.2"/>
<line x1="410.00" x2="414.00" y1="49.6" y2="49.6" stroke="#151515" stroke-width="1.5"/>
<line x1="407.96" x2="407.96" y1="184.4" y2="188.3" stroke="#000" stroke-width="1.25"/>
<text transform="translate(407.16,192.6) rotate(-45)" font-size="9.1" text-anchor="end" dominant-baseline="hanging" fill="#1A1A1A">Tgd</text>
<circle cx="403.86" cy="12.4" r="1.12" fill="#1a1a1a"/>
<circle cx="407.76" cy="12.4" r="1.12" fill="#1a1a1a"/>
<circle cx="411.66" cy="12.4" r="1.12" fill="#1a1a1a"/>
<line x1="422.00" x2="422.00" y1="86" y2="97" stroke="#000" stroke-opacity="0.75" stroke-width="1.2"/>
<line x1="420.00" x2="424.00" y1="91.5" y2="91.5" stroke="#151515" stroke-width="1.5"/>
<line x1="429.80" x2="429.80" y1="85" y2="96.4" stroke="#000" stroke-opacity="0.75" stroke-width="1.2"/>
<line x1="427.80" x2="431.80" y1="90.4" y2="90.4" stroke="#151515" stroke-width="1.5"/>
<line x1="426.00" x2="426.00" y1="184.4" y2="188.3" stroke="#000" stroke-width="1.25"/>
<text transform="translate(425.20,192.6) rotate(-45)" font-size="9.1" text-anchor="end" dominant-baseline="hanging" fill="#1A1A1A">Th1 cells</text>
<circle cx="425.80" cy="12.4" r="1.12" fill="#1a1a1a"/>
<line x1="440.20" x2="440.20" y1="149" y2="165.5" stroke="#000" stroke-opacity="0.75" stroke-width="1.2"/>
<line x1="438.20" x2="442.20" y1="156.7" y2="156.7" stroke="#151515" stroke-width="1.5"/>
<line x1="448.00" x2="448.00" y1="142.7" y2="162.7" stroke="#000" stroke-opacity="0.75" stroke-width="1.2"/>
<line x1="446.00" x2="450.00" y1="152.7" y2="152.7" stroke="#151515" stroke-width="1.5"/>
<line x1="444.04" x2="444.04" y1="184.4" y2="188.3" stroke="#000" stroke-width="1.25"/>
<text transform="translate(443.24,192.6) rotate(-45)" font-size="9.1" text-anchor="end" dominant-baseline="hanging" fill="#1A1A1A">Th17 cells</text>
<circle cx="439.94" cy="12.4" r="1.12" fill="#1a1a1a"/>
<circle cx="443.84" cy="12.4" r="1.12" fill="#1a1a1a"/>
<circle cx="447.74" cy="12.4" r="1.12" fill="#1a1a1a"/>
<line x1="458.50" x2="458.50" y1="94.5" y2="108" stroke="#000" stroke-opacity="0.75" stroke-width="1.2"/>
<line x1="456.50" x2="460.50" y1="101.5" y2="101.5" stroke="#151515" stroke-width="1.5"/>
<line x1="466.20" x2="466.20" y1="90.5" y2="108.7" stroke="#000" stroke-opacity="0.75" stroke-width="1.2"/>
<line x1="464.20" x2="468.20" y1="99.6" y2="99.6" stroke="#151515" stroke-width="1.5"/>
<line x1="462.08" x2="462.08" y1="184.4" y2="188.3" stroke="#000" stroke-width="1.25"/>
<text transform="translate(461.28,192.6) rotate(-45)" font-size="9.1" text-anchor="end" dominant-baseline="hanging" fill="#1A1A1A">Th2 cells</text>
<circle cx="461.88" cy="12.4" r="1.12" fill="#1a1a1a"/>
<line x1="476.60" x2="476.60" y1="110" y2="130" stroke="#000" stroke-opacity="0.75" stroke-width="1.2"/>
<line x1="474.60" x2="478.60" y1="119.6" y2="119.6" stroke="#151515" stroke-width="1.5"/>
<line x1="484.40" x2="484.40" y1="114.5" y2="132.7" stroke="#000" stroke-opacity="0.75" stroke-width="1.2"/>
<line x1="482.40" x2="486.40" y1="123.6" y2="123.6" stroke="#151515" stroke-width="1.5"/>
<line x1="480.12" x2="480.12" y1="184.4" y2="188.3" stroke="#000" stroke-width="1.25"/>
<text transform="translate(479.32,192.6) rotate(-45)" font-size="9.1" text-anchor="end" dominant-baseline="hanging" fill="#1A1A1A">TReg</text>
<circle cx="476.02" cy="12.4" r="1.12" fill="#1a1a1a"/>
<circle cx="479.92" cy="12.4" r="1.12" fill="#1a1a1a"/>
<circle cx="483.82" cy="12.4" r="1.12" fill="#1a1a1a"/>
<text x="506.7" y="71.3" font-size="7.6" fill="#1A1A1A">ECM2</text>
<circle cx="500" cy="79.8" r="2.8" fill="#7EAFDB"/>
<circle cx="500" cy="90.6" r="2.8" fill="#F97E6D"/>
<text x="509" y="82.8" font-size="8.2" fill="#1A1A1A">Low</text>
<text x="509" y="93.6" font-size="8.2" fill="#1A1A1A">High</text>
<text x="7.4" y="290.2" font-size="15.2" fill="#000" style="stroke:#000;stroke-width:0.15px">b</text>
<rect x="47.4" y="282.4" width="441.20000000000005" height="189.40000000000003" fill="#fff"/>
<line x1="47.4" x2="488.6" y1="288.93" y2="288.93" stroke="#F0F0F0" stroke-width="1.0"/>
<line x1="47.4" x2="488.6" y1="322.15" y2="322.15" stroke="#F0F0F0" stroke-width="1.0"/>
<line x1="47.4" x2="488.6" y1="355.37" y2="355.37" stroke="#F0F0F0" stroke-width="1.0"/>
<line x1="47.4" x2="488.6" y1="388.59" y2="388.59" stroke="#F0F0F0" stroke-width="1.0"/>
<line x1="47.4" x2="488.6" y1="421.81" y2="421.81" stroke="#F0F0F0" stroke-width="1.0"/>
<line x1="47.4" x2="488.6" y1="455.03" y2="455.03" stroke="#F0F0F0" stroke-width="1.0"/>
<line x1="47.4" x2="488.6" y1="305.54" y2="305.54" stroke="#EBEBEB" stroke-width="1.1"/>
<line x1="47.4" x2="488.6" y1="338.76" y2="338.76" stroke="#EBEBEB" stroke-width="1.1"/>
<line x1="47.4" x2="488.6" y1="371.98" y2="371.98" stroke="#EBEBEB" stroke-width="1.1"/>
<line x1="47.4" x2="488.6" y1="438.42" y2="438.42" stroke="#EBEBEB" stroke-width="1.1"/>
<line x1="58.40" x2="58.40" y1="282.4" y2="471.8" stroke="#EBEBEB" stroke-width="1.1"/>
<line x1="76.65" x2="76.65" y1="282.4" y2="471.8" stroke="#EBEBEB" stroke-width="1.1"/>
<line x1="94.90" x2="94.90" y1="282.4" y2="471.8" stroke="#EBEBEB" stroke-width="1.1"/>
<line x1="113.15" x2="113.15" y1="282.4" y2="471.8" stroke="#EBEBEB" stroke-width="1.1"/>
<line x1="131.40" x2="131.40" y1="282.4" y2="471.8" stroke="#EBEBEB" stroke-width="1.1"/>
<line x1="149.65" x2="149.65" y1="282.4" y2="471.8" stroke="#EBEBEB" stroke-width="1.1"/>
<line x1="167.90" x2="167.90" y1="282.4" y2="471.8" stroke="#EBEBEB" stroke-width="1.1"/>
<line x1="186.15" x2="186.15" y1="282.4" y2="471.8" stroke="#EBEBEB" stroke-width="1.1"/>
<line x1="204.40" x2="204.40" y1="282.4" y2="471.8" stroke="#EBEBEB" stroke-width="1.1"/>
<line x1="222.65" x2="222.65" y1="282.4" y2="471.8" stroke="#EBEBEB" stroke-width="1.1"/>
<line x1="240.90" x2="240.90" y1="282.4" y2="471.8" stroke="#EBEBEB" stroke-width="1.1"/>
<line x1="259.15" x2="259.15" y1="282.4" y2="471.8" stroke="#EBEBEB" stroke-width="1.1"/>
<line x1="277.40" x2="277.40" y1="282.4" y2="471.8" stroke="#EBEBEB" stroke-width="1.1"/>
<line x1="295.65" x2="295.65" y1="282.4" y2="471.8" stroke="#EBEBEB" stroke-width="1.1"/>
<line x1="313.90" x2="313.90" y1="282.4" y2="471.8" stroke="#EBEBEB" stroke-width="1.1"/>
<line x1="332.15" x2="332.15" y1="282.4" y2="471.8" stroke="#EBEBEB" stroke-width="1.1"/>
<line x1="350.40" x2="350.40" y1="282.4" y2="471.8" stroke="#EBEBEB" stroke-width="1.1"/>
<line x1="368.65" x2="368.65" y1="282.4" y2="471.8" stroke="#EBEBEB" stroke-width="1.1"/>
<line x1="386.90" x2="386.90" y1="282.4" y2="471.8" stroke="#EBEBEB" stroke-width="1.1"/>
<line x1="405.15" x2="405.15" y1="282.4" y2="471.8" stroke="#EBEBEB" stroke-width="1.1"/>
<line x1="423.40" x2="423.40" y1="282.4" y2="471.8" stroke="#EBEBEB" stroke-width="1.1"/>
<line x1="441.65" x2="441.65" y1="282.4" y2="471.8" stroke="#EBEBEB" stroke-width="1.1"/>
<line x1="459.90" x2="459.90" y1="282.4" y2="471.8" stroke="#EBEBEB" stroke-width="1.1"/>
<line x1="478.15" x2="478.15" y1="282.4" y2="471.8" stroke="#EBEBEB" stroke-width="1.1"/>
<line x1="47.4" x2="488.6" y1="405.2" y2="405.2" stroke="#555" stroke-width="1.3"/>
<line x1="58.40" x2="58.40" y1="405.2" y2="460.6" stroke="#222" stroke-width="1.45"/>
<line x1="76.65" x2="76.65" y1="405.2" y2="452.2" stroke="#222" stroke-width="1.45"/>
<line x1="94.90" x2="94.90" y1="405.2" y2="446.3" stroke="#222" stroke-width="1.45"/>
<line x1="113.15" x2="113.15" y1="405.2" y2="420.4" stroke="#222" stroke-width="1.45"/>
<line x1="131.40" x2="131.40" y1="405.2" y2="407.0" stroke="#222" stroke-width="1.45"/>
<line x1="149.65" x2="149.65" y1="405.2" y2="405.4" stroke="#222" stroke-width="1.45"/>
<line x1="167.90" x2="167.90" y1="405.2" y2="392.4" stroke="#222" stroke-width="1.45"/>
<line x1="186.15" x2="186.15" y1="405.2" y2="392.4" stroke="#222" stroke-width="1.45"/>
<line x1="204.40" x2="204.40" y1="405.2" y2="384.1" stroke="#222" stroke-width="1.45"/>
<line x1="222.65" x2="222.65" y1="405.2" y2="383.1" stroke="#222" stroke-width="1.45"/>
<line x1="240.90" x2="240.90" y1="405.2" y2="380.7" stroke="#222" stroke-width="1.45"/>
<line x1="259.15" x2="259.15" y1="405.2" y2="380.2" stroke="#222" stroke-width="1.45"/>
<line x1="277.40" x2="277.40" y1="405.2" y2="377.4" stroke="#222" stroke-width="1.45"/>
<line x1="295.65" x2="295.65" y1="405.2" y2="354.3" stroke="#222" stroke-width="1.45"/>
<line x1="313.90" x2="313.90" y1="405.2" y2="351.9" stroke="#222" stroke-width="1.45"/>
<line x1="332.15" x2="332.15" y1="405.2" y2="348.5" stroke="#222" stroke-width="1.45"/>
<line x1="350.40" x2="350.40" y1="405.2" y2="348.1" stroke="#222" stroke-width="1.45"/>
<line x1="368.65" x2="368.65" y1="405.2" y2="346.7" stroke="#222" stroke-width="1.45"/>
<line x1="386.90" x2="386.90" y1="405.2" y2="341.1" stroke="#222" stroke-width="1.45"/>
<line x1="405.15" x2="405.15" y1="405.2" y2="341.1" stroke="#222" stroke-width="1.45"/>
<line x1="423.40" x2="423.40" y1="405.2" y2="338.3" stroke="#222" stroke-width="1.45"/>
<line x1="441.65" x2="441.65" y1="405.2" y2="318" stroke="#222" stroke-width="1.45"/>
<line x1="459.90" x2="459.90" y1="405.2" y2="315.6" stroke="#222" stroke-width="1.45"/>
<line x1="478.15" x2="478.15" y1="405.2" y2="290.6" stroke="#222" stroke-width="1.45"/>
<circle cx="58.40" cy="460.6" r="6.1" fill="#F97E6D"/>
<circle cx="76.65" cy="452.2" r="5.9" fill="#F97E6D"/>
<circle cx="94.90" cy="446.3" r="5.6" fill="#F97E6D"/>
<circle cx="113.15" cy="420.4" r="4.3" fill="#F97E6D"/>
<circle cx="131.40" cy="407.0" r="3.4" fill="#97A6CB"/>
<circle cx="149.65" cy="405.4" r="2.8" fill="#7EAFDB"/>
<circle cx="167.90" cy="392.4" r="4.6" fill="#F97E6D"/>
<circle cx="186.15" cy="392.4" r="4.6" fill="#F97E6D"/>
<circle cx="204.40" cy="384.1" r="5.0" fill="#F97E6D"/>
<circle cx="222.65" cy="383.1" r="5.0" fill="#F97E6D"/>
<circle cx="240.90" cy="380.7" r="5.2" fill="#F97E6D"/>
<circle cx="259.15" cy="380.2" r="5.2" fill="#F97E6D"/>
<circle cx="277.40" cy="377.4" r="5.3" fill="#F97E6D"/>
<circle cx="295.65" cy="354.3" r="6.1" fill="#F97E6D"/>
<circle cx="313.90" cy="351.9" r="6.1" fill="#F97E6D"/>
<circle cx="332.15" cy="348.5" r="6.3" fill="#F97E6D"/>
<circle cx="350.40" cy="348.1" r="6.3" fill="#F97E6D"/>
<circle cx="368.65" cy="346.7" r="6.3" fill="#F97E6D"/>
<circle cx="386.90" cy="341.1" r="6.5" fill="#F97E6D"/>
<circle cx="405.15" cy="341.1" r="6.5" fill="#F97E6D"/>
<circle cx="423.40" cy="338.3" r="6.5" fill="#F97E6D"/>
<circle cx="441.65" cy="318" r="7.0" fill="#F97E6D"/>
<circle cx="459.90" cy="315.6" r="7.0" fill="#F97E6D"/>
<circle cx="478.15" cy="290.6" r="7.8" fill="#F97E6D"/>
<rect x="47.4" y="282.4" width="441.20000000000005" height="189.40000000000003" fill="none" stroke="#000" stroke-width="1.35"/>
<line x1="43.4" x2="47.4" y1="305.54" y2="305.54" stroke="#000" stroke-width="1.1"/>
<text x="39.3" y="309.04" font-size="9.4" text-anchor="end" fill="#1A1A1A">0.6</text>
<line x1="43.4" x2="47.4" y1="338.76" y2="338.76" stroke="#000" stroke-width="1.1"/>
<text x="39.3" y="342.26" font-size="9.4" text-anchor="end" fill="#1A1A1A">0.4</text>
<line x1="43.4" x2="47.4" y1="371.98" y2="371.98" stroke="#000" stroke-width="1.1"/>
<text x="39.3" y="375.48" font-size="9.4" text-anchor="end" fill="#1A1A1A">0.2</text>
<line x1="43.4" x2="47.4" y1="405.20" y2="405.20" stroke="#000" stroke-width="1.1"/>
<text x="39.3" y="408.70" font-size="9.4" text-anchor="end" fill="#1A1A1A">0.0</text>
<line x1="43.4" x2="47.4" y1="438.42" y2="438.42" stroke="#000" stroke-width="1.1"/>
<text x="39.3" y="441.92" font-size="9.4" text-anchor="end" fill="#1A1A1A">−0.2</text>
<line x1="43.4" x2="47.4" y1="471.64" y2="471.64" stroke="#000" stroke-width="1.1"/>
<text x="39.3" y="475.14" font-size="9.4" text-anchor="end" fill="#1A1A1A">−0.4</text>
<text transform="translate(14.2,376.8) rotate(-90)" font-size="10.8" text-anchor="middle" fill="#1A1A1A">Correlation</text>
<line x1="58.40" x2="58.40" y1="471.8" y2="476.1" stroke="#000" stroke-width="1.1"/>
<text transform="translate(57.00,479.6) rotate(-45)" font-size="9.5" text-anchor="end" dominant-baseline="hanging" fill="#1A1A1A">pDC</text>
<line x1="76.65" x2="76.65" y1="471.8" y2="476.1" stroke="#000" stroke-width="1.1"/>
<text transform="translate(75.25,479.6) rotate(-45)" font-size="9.5" text-anchor="end" dominant-baseline="hanging" fill="#1A1A1A">NK CD56bright cells</text>
<line x1="94.90" x2="94.90" y1="471.8" y2="476.1" stroke="#000" stroke-width="1.1"/>
<text transform="translate(93.50,479.6) rotate(-45)" font-size="9.5" text-anchor="end" dominant-baseline="hanging" fill="#1A1A1A">TReg</text>
<line x1="113.15" x2="113.15" y1="471.8" y2="476.1" stroke="#000" stroke-width="1.1"/>
<text transform="translate(111.75,479.6) rotate(-45)" font-size="9.5" text-anchor="end" dominant-baseline="hanging" fill="#1A1A1A">CD8 T cells</text>
<line x1="131.40" x2="131.40" y1="471.8" y2="476.1" stroke="#000" stroke-width="1.1"/>
<text transform="translate(130.00,479.6) rotate(-45)" font-size="9.5" text-anchor="end" dominant-baseline="hanging" fill="#1A1A1A">DC</text>
<line x1="149.65" x2="149.65" y1="471.8" y2="476.1" stroke="#000" stroke-width="1.1"/>
<text transform="translate(148.25,479.6) rotate(-45)" font-size="9.5" text-anchor="end" dominant-baseline="hanging" fill="#1A1A1A">Mast cells</text>
<line x1="167.90" x2="167.90" y1="471.8" y2="476.1" stroke="#000" stroke-width="1.1"/>
<text transform="translate(166.50,479.6) rotate(-45)" font-size="9.5" text-anchor="end" dominant-baseline="hanging" fill="#1A1A1A">TFH</text>
<line x1="186.15" x2="186.15" y1="471.8" y2="476.1" stroke="#000" stroke-width="1.1"/>
<text transform="translate(184.75,479.6) rotate(-45)" font-size="9.5" text-anchor="end" dominant-baseline="hanging" fill="#1A1A1A">Th1 cells</text>
<line x1="204.40" x2="204.40" y1="471.8" y2="476.1" stroke="#000" stroke-width="1.1"/>
<text transform="translate(203.00,479.6) rotate(-45)" font-size="9.5" text-anchor="end" dominant-baseline="hanging" fill="#1A1A1A">Tcm</text>
<line x1="222.65" x2="222.65" y1="471.8" y2="476.1" stroke="#000" stroke-width="1.1"/>
<text transform="translate(221.25,479.6) rotate(-45)" font-size="9.5" text-anchor="end" dominant-baseline="hanging" fill="#1A1A1A">Th2 cells</text>
<line x1="240.90" x2="240.90" y1="471.8" y2="476.1" stroke="#000" stroke-width="1.1"/>
<text transform="translate(239.50,479.6) rotate(-45)" font-size="9.5" text-anchor="end" dominant-baseline="hanging" fill="#1A1A1A">Tem</text>
<line x1="259.15" x2="259.15" y1="471.8" y2="476.1" stroke="#000" stroke-width="1.1"/>
<text transform="translate(257.75,479.6) rotate(-45)" font-size="9.5" text-anchor="end" dominant-baseline="hanging" fill="#1A1A1A">B cells</text>
<line x1="277.40" x2="277.40" y1="471.8" y2="476.1" stroke="#000" stroke-width="1.1"/>
<text transform="translate(276.00,479.6) rotate(-45)" font-size="9.5" text-anchor="end" dominant-baseline="hanging" fill="#1A1A1A">NK CD56dim cells</text>
<line x1="295.65" x2="295.65" y1="471.8" y2="476.1" stroke="#000" stroke-width="1.1"/>
<text transform="translate(294.25,479.6) rotate(-45)" font-size="9.5" text-anchor="end" dominant-baseline="hanging" fill="#1A1A1A">Tgd</text>
<line x1="313.90" x2="313.90" y1="471.8" y2="476.1" stroke="#000" stroke-width="1.1"/>
<text transform="translate(312.50,479.6) rotate(-45)" font-size="9.5" text-anchor="end" dominant-baseline="hanging" fill="#1A1A1A">T cells</text>
<line x1="332.15" x2="332.15" y1="471.8" y2="476.1" stroke="#000" stroke-width="1.1"/>
<text transform="translate(330.75,479.6) rotate(-45)" font-size="9.5" text-anchor="end" dominant-baseline="hanging" fill="#1A1A1A">NK cells</text>
<line x1="350.40" x2="350.40" y1="471.8" y2="476.1" stroke="#000" stroke-width="1.1"/>
<text transform="translate(349.00,479.6) rotate(-45)" font-size="9.5" text-anchor="end" dominant-baseline="hanging" fill="#1A1A1A">T helper cells</text>
<line x1="368.65" x2="368.65" y1="471.8" y2="476.1" stroke="#000" stroke-width="1.1"/>
<text transform="translate(367.25,479.6) rotate(-45)" font-size="9.5" text-anchor="end" dominant-baseline="hanging" fill="#1A1A1A">Cytotoxic cells</text>
<line x1="386.90" x2="386.90" y1="471.8" y2="476.1" stroke="#000" stroke-width="1.1"/>
<text transform="translate(385.50,479.6) rotate(-45)" font-size="9.5" text-anchor="end" dominant-baseline="hanging" fill="#1A1A1A">Th17 cells</text>
<line x1="405.15" x2="405.15" y1="471.8" y2="476.1" stroke="#000" stroke-width="1.1"/>
<text transform="translate(403.75,479.6) rotate(-45)" font-size="9.5" text-anchor="end" dominant-baseline="hanging" fill="#1A1A1A">iDC</text>
<line x1="423.40" x2="423.40" y1="471.8" y2="476.1" stroke="#000" stroke-width="1.1"/>
<text transform="translate(422.00,479.6) rotate(-45)" font-size="9.5" text-anchor="end" dominant-baseline="hanging" fill="#1A1A1A">aDC</text>
<line x1="441.65" x2="441.65" y1="471.8" y2="476.1" stroke="#000" stroke-width="1.1"/>
<text transform="translate(440.25,479.6) rotate(-45)" font-size="9.5" text-anchor="end" dominant-baseline="hanging" fill="#1A1A1A">Neutrophils</text>
<line x1="459.90" x2="459.90" y1="471.8" y2="476.1" stroke="#000" stroke-width="1.1"/>
<text transform="translate(458.50,479.6) rotate(-45)" font-size="9.5" text-anchor="end" dominant-baseline="hanging" fill="#1A1A1A">Eosinophils</text>
<line x1="478.15" x2="478.15" y1="471.8" y2="476.1" stroke="#000" stroke-width="1.1"/>
<text transform="translate(476.75,479.6) rotate(-45)" font-size="9.5" text-anchor="end" dominant-baseline="hanging" fill="#1A1A1A">Macrophages</text>
<text x="496.4" y="313.6" font-size="7.9" fill="#1A1A1A">P value</text>
<defs><linearGradient id="pg" x1="0" y1="0" x2="0" y2="1"><stop offset="0" stop-color="#779FCB"/><stop offset="0.5" stop-color="#B48FA3"/><stop offset="1" stop-color="#F47E72"/></linearGradient></defs>
<rect x="496.4" y="316.3" width="13.8" height="56.3" fill="url(#pg)"/>
<line x1="496.4" x2="499" y1="330.17" y2="330.17" stroke="#fff" stroke-width="0.8"/>
<line x1="507.6" x2="510.2" y1="330.17" y2="330.17" stroke="#fff" stroke-width="0.8"/>
<text x="514.5" y="333.27" font-size="8.3" fill="#1A1A1A">0.75</text>
<line x1="496.4" x2="499" y1="344.25" y2="344.25" stroke="#fff" stroke-width="0.8"/>
<line x1="507.6" x2="510.2" y1="344.25" y2="344.25" stroke="#fff" stroke-width="0.8"/>
<text x="514.5" y="347.35" font-size="8.3" fill="#1A1A1A">0.50</text>
<line x1="496.4" x2="499" y1="358.32" y2="358.32" stroke="#fff" stroke-width="0.8"/>
<line x1="507.6" x2="510.2" y1="358.32" y2="358.32" stroke="#fff" stroke-width="0.8"/>
<text x="514.5" y="361.43" font-size="8.3" fill="#1A1A1A">0.25</text>
<line x1="496.4" x2="499" y1="372.40" y2="372.40" stroke="#fff" stroke-width="0.8"/>
<line x1="507.6" x2="510.2" y1="372.40" y2="372.40" stroke="#fff" stroke-width="0.8"/>
<text x="514.5" y="375.50" font-size="8.3" fill="#1A1A1A">0.00</text>
<text x="496.6" y="390.2" font-size="7.9" fill="#1A1A1A">Correlation</text>
<circle cx="505.5" cy="399" r="4.9" fill="none" stroke="#000" stroke-width="1.35"/>
<text x="518" y="402.10" font-size="8.3" fill="#1A1A1A">0.2</text>
<circle cx="505.5" cy="412.7" r="6.0" fill="none" stroke="#000" stroke-width="1.35"/>
<text x="518" y="415.80" font-size="8.3" fill="#1A1A1A">0.4</text>
<circle cx="505.5" cy="428.2" r="7.0" fill="none" stroke="#000" stroke-width="1.35"/>
<text x="518" y="431.30" font-size="8.3" fill="#1A1A1A">0.6</text>
</svg></body></html>
